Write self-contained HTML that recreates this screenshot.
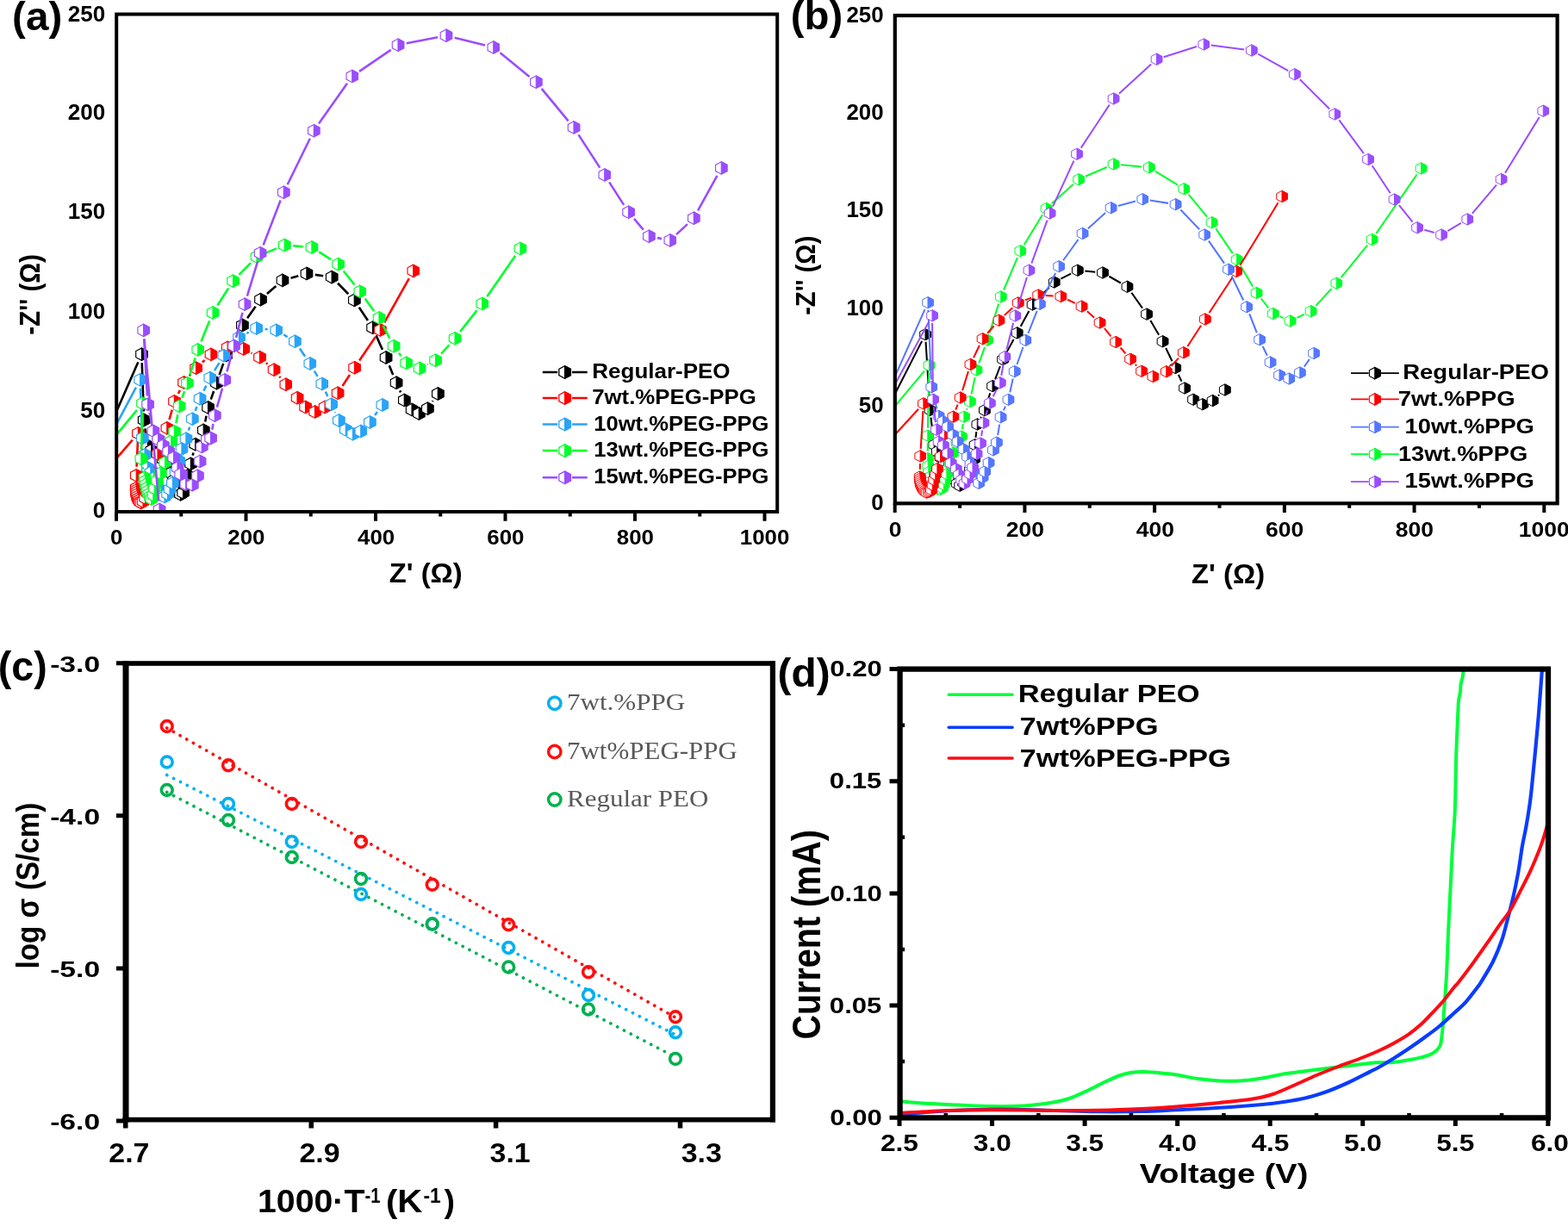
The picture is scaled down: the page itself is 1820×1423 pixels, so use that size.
<!DOCTYPE html>
<html><head><meta charset="utf-8"><title>figure</title><style>html,body{margin:0;padding:0;background:#fff;overflow:hidden}svg{display:block}</style></head><body><svg width="1820" height="1423" viewBox="0 0 1820 1423"><rect width="1820" height="1423" fill="#fff"/>
<clipPath id="ca"><rect x="135.2" y="16.5" width="767.0" height="577.5"/></clipPath>
<g clip-path="url(#ca)">
<path d="M120,512L160.37,420.25" fill="none" stroke="#000000" stroke-width="2.6"/><path d="M164.75,421.09L166.75,477.51M168.49,497.4L169.91,507.6M223.68,528.58L224.42,525.44M238.18,489.5L239.52,482.8M244.79,463.56L248.11,454.04M254.66,435.15L259.24,421.85M267.24,403.6L276.56,386.3M287.07,369.33L296.63,355.77M309.94,341.03L320.36,331.97M337.52,322.68L346.28,320.22M365.8,318.89L375.2,320.21M392.08,328.76L404.27,341.24M416.8,356.72L426.95,371.93M436.57,389.38L443.93,405.87M451.8,424.25L456.2,435M464.15,453.35L465.1,455.4M501.96,466.04L502.54,465.21" fill="none" stroke="#000000" stroke-width="2.6" stroke-linecap="butt"/><path d="M164.4,403.95L171.1,407.53L171.1,414.68L164.4,418.25L157.7,414.68L157.7,407.53Z" fill="#fff" stroke="#000000" stroke-width="1.15" stroke-linejoin="miter"/><path d="M164.4,403.95L171.1,407.53L171.1,414.68L164.4,418.25Z" fill="#000000" stroke="#000000" stroke-width="1.15"/><path d="M167.1,480.35L173.8,483.93L173.8,491.07L167.1,494.65L160.4,491.07L160.4,483.93Z" fill="#fff" stroke="#000000" stroke-width="1.15" stroke-linejoin="miter"/><path d="M167.1,480.35L173.8,483.93L173.8,491.07L167.1,494.65Z" fill="#000000" stroke="#000000" stroke-width="1.15"/><path d="M171.3,510.35L178,513.92L178,521.08L171.3,524.65L164.6,521.08L164.6,513.92Z" fill="#fff" stroke="#000000" stroke-width="1.15" stroke-linejoin="miter"/><path d="M171.3,510.35L178,513.92L178,521.08L171.3,524.65Z" fill="#000000" stroke="#000000" stroke-width="1.15"/><path d="M175.7,515.55L182.4,519.12L182.4,526.28L175.7,529.85L169,526.28L169,519.12Z" fill="#fff" stroke="#000000" stroke-width="1.15" stroke-linejoin="miter"/><path d="M175.7,515.55L182.4,519.12L182.4,526.28L175.7,529.85Z" fill="#000000" stroke="#000000" stroke-width="1.15"/><path d="M182.7,519.15L189.4,522.72L189.4,529.88L182.7,533.45L176,529.88L176,522.72Z" fill="#fff" stroke="#000000" stroke-width="1.15" stroke-linejoin="miter"/><path d="M182.7,519.15L189.4,522.72L189.4,529.88L182.7,533.45Z" fill="#000000" stroke="#000000" stroke-width="1.15"/><path d="M189,525.85L195.7,529.42L195.7,536.58L189,540.15L182.3,536.58L182.3,529.42Z" fill="#fff" stroke="#000000" stroke-width="1.15" stroke-linejoin="miter"/><path d="M189,525.85L195.7,529.42L195.7,536.58L189,540.15Z" fill="#000000" stroke="#000000" stroke-width="1.15"/><path d="M194,533.44L200.7,537.02L200.7,544.17L194,547.74L187.3,544.17L187.3,537.02Z" fill="#fff" stroke="#000000" stroke-width="1.15" stroke-linejoin="miter"/><path d="M194,533.44L200.7,537.02L200.7,544.17L194,547.74Z" fill="#000000" stroke="#000000" stroke-width="1.15"/><path d="M198,541.98L204.7,545.56L204.7,552.71L198,556.28L191.3,552.71L191.3,545.56Z" fill="#fff" stroke="#000000" stroke-width="1.15" stroke-linejoin="miter"/><path d="M198,541.98L204.7,545.56L204.7,552.71L198,556.28Z" fill="#000000" stroke="#000000" stroke-width="1.15"/><path d="M201.5,550.52L208.2,554.09L208.2,561.24L201.5,564.82L194.8,561.24L194.8,554.09Z" fill="#fff" stroke="#000000" stroke-width="1.15" stroke-linejoin="miter"/><path d="M201.5,550.52L208.2,554.09L208.2,561.24L201.5,564.82Z" fill="#000000" stroke="#000000" stroke-width="1.15"/><path d="M204.5,558.11L211.2,561.69L211.2,568.84L204.5,572.41L197.8,568.84L197.8,561.69Z" fill="#fff" stroke="#000000" stroke-width="1.15" stroke-linejoin="miter"/><path d="M204.5,558.11L211.2,561.69L211.2,568.84L204.5,572.41Z" fill="#000000" stroke="#000000" stroke-width="1.15"/><path d="M207,563.8L213.7,567.38L213.7,574.53L207,578.1L200.3,574.53L200.3,567.38Z" fill="#fff" stroke="#000000" stroke-width="1.15" stroke-linejoin="miter"/><path d="M207,563.8L213.7,567.38L213.7,574.53L207,578.1Z" fill="#000000" stroke="#000000" stroke-width="1.15"/><path d="M209.5,566.65L216.2,570.22L216.2,577.38L209.5,580.95L202.8,577.38L202.8,570.22Z" fill="#fff" stroke="#000000" stroke-width="1.15" stroke-linejoin="miter"/><path d="M209.5,566.65L216.2,570.22L216.2,577.38L209.5,580.95Z" fill="#000000" stroke="#000000" stroke-width="1.15"/><path d="M212.5,564.75L219.2,568.33L219.2,575.48L212.5,579.05L205.8,575.48L205.8,568.33Z" fill="#fff" stroke="#000000" stroke-width="1.15" stroke-linejoin="miter"/><path d="M212.5,564.75L219.2,568.33L219.2,575.48L212.5,579.05Z" fill="#000000" stroke="#000000" stroke-width="1.15"/><path d="M215.5,556.21L222.2,559.79L222.2,566.94L215.5,570.51L208.8,566.94L208.8,559.79Z" fill="#fff" stroke="#000000" stroke-width="1.15" stroke-linejoin="miter"/><path d="M215.5,556.21L222.2,559.79L222.2,566.94L215.5,570.51Z" fill="#000000" stroke="#000000" stroke-width="1.15"/><path d="M218,544.83L224.7,548.4L224.7,555.55L218,559.13L211.3,555.55L211.3,548.4Z" fill="#fff" stroke="#000000" stroke-width="1.15" stroke-linejoin="miter"/><path d="M218,544.83L224.7,548.4L224.7,555.55L218,559.13Z" fill="#000000" stroke="#000000" stroke-width="1.15"/><path d="M221.4,531.16L228.1,534.74L228.1,541.89L221.4,545.46L214.7,541.89L214.7,534.74Z" fill="#fff" stroke="#000000" stroke-width="1.15" stroke-linejoin="miter"/><path d="M221.4,531.16L228.1,534.74L228.1,541.89L221.4,545.46Z" fill="#000000" stroke="#000000" stroke-width="1.15"/><path d="M226.7,508.55L233.4,512.12L233.4,519.28L226.7,522.85L220,519.28L220,512.12Z" fill="#fff" stroke="#000000" stroke-width="1.15" stroke-linejoin="miter"/><path d="M226.7,508.55L233.4,512.12L233.4,519.28L226.7,522.85Z" fill="#000000" stroke="#000000" stroke-width="1.15"/><path d="M236.2,492.15L242.9,495.73L242.9,502.88L236.2,506.45L229.5,502.88L229.5,495.73Z" fill="#fff" stroke="#000000" stroke-width="1.15" stroke-linejoin="miter"/><path d="M236.2,492.15L242.9,495.73L242.9,502.88L236.2,506.45Z" fill="#000000" stroke="#000000" stroke-width="1.15"/><path d="M241.5,465.85L248.2,469.43L248.2,476.57L241.5,480.15L234.8,476.57L234.8,469.43Z" fill="#fff" stroke="#000000" stroke-width="1.15" stroke-linejoin="miter"/><path d="M241.5,465.85L248.2,469.43L248.2,476.57L241.5,480.15Z" fill="#000000" stroke="#000000" stroke-width="1.15"/><path d="M251.4,437.45L258.1,441.03L258.1,448.18L251.4,451.75L244.7,448.18L244.7,441.03Z" fill="#fff" stroke="#000000" stroke-width="1.15" stroke-linejoin="miter"/><path d="M251.4,437.45L258.1,441.03L258.1,448.18L251.4,451.75Z" fill="#000000" stroke="#000000" stroke-width="1.15"/><path d="M262.5,405.25L269.2,408.82L269.2,415.97L262.5,419.55L255.8,415.97L255.8,408.82Z" fill="#fff" stroke="#000000" stroke-width="1.15" stroke-linejoin="miter"/><path d="M262.5,405.25L269.2,408.82L269.2,415.97L262.5,419.55Z" fill="#000000" stroke="#000000" stroke-width="1.15"/><path d="M281.3,370.35L288,373.93L288,381.07L281.3,384.65L274.6,381.07L274.6,373.93Z" fill="#fff" stroke="#000000" stroke-width="1.15" stroke-linejoin="miter"/><path d="M281.3,370.35L288,373.93L288,381.07L281.3,384.65Z" fill="#000000" stroke="#000000" stroke-width="1.15"/><path d="M302.4,340.45L309.1,344.03L309.1,351.18L302.4,354.75L295.7,351.18L295.7,344.03Z" fill="#fff" stroke="#000000" stroke-width="1.15" stroke-linejoin="miter"/><path d="M302.4,340.45L309.1,344.03L309.1,351.18L302.4,354.75Z" fill="#000000" stroke="#000000" stroke-width="1.15"/><path d="M327.9,318.25L334.6,321.82L334.6,328.97L327.9,332.55L321.2,328.97L321.2,321.82Z" fill="#fff" stroke="#000000" stroke-width="1.15" stroke-linejoin="miter"/><path d="M327.9,318.25L334.6,321.82L334.6,328.97L327.9,332.55Z" fill="#000000" stroke="#000000" stroke-width="1.15"/><path d="M355.9,310.35L362.6,313.93L362.6,321.07L355.9,324.65L349.2,321.07L349.2,313.93Z" fill="#fff" stroke="#000000" stroke-width="1.15" stroke-linejoin="miter"/><path d="M355.9,310.35L362.6,313.93L362.6,321.07L355.9,324.65Z" fill="#000000" stroke="#000000" stroke-width="1.15"/><path d="M385.1,314.45L391.8,318.03L391.8,325.18L385.1,328.75L378.4,325.18L378.4,318.03Z" fill="#fff" stroke="#000000" stroke-width="1.15" stroke-linejoin="miter"/><path d="M385.1,314.45L391.8,318.03L391.8,325.18L385.1,328.75Z" fill="#000000" stroke="#000000" stroke-width="1.15"/><path d="M411.25,341.25L417.95,344.82L417.95,351.97L411.25,355.55L404.55,351.97L404.55,344.82Z" fill="#fff" stroke="#000000" stroke-width="1.15" stroke-linejoin="miter"/><path d="M411.25,341.25L417.95,344.82L417.95,351.97L411.25,355.55Z" fill="#000000" stroke="#000000" stroke-width="1.15"/><path d="M432.5,373.1L439.2,376.68L439.2,383.82L432.5,387.4L425.8,383.82L425.8,376.68Z" fill="#fff" stroke="#000000" stroke-width="1.15" stroke-linejoin="miter"/><path d="M432.5,373.1L439.2,376.68L439.2,383.82L432.5,387.4Z" fill="#000000" stroke="#000000" stroke-width="1.15"/><path d="M448,407.85L454.7,411.43L454.7,418.57L448,422.15L441.3,418.57L441.3,411.43Z" fill="#fff" stroke="#000000" stroke-width="1.15" stroke-linejoin="miter"/><path d="M448,407.85L454.7,411.43L454.7,418.57L448,422.15Z" fill="#000000" stroke="#000000" stroke-width="1.15"/><path d="M460,437.1L466.7,440.68L466.7,447.82L460,451.4L453.3,447.82L453.3,440.68Z" fill="#fff" stroke="#000000" stroke-width="1.15" stroke-linejoin="miter"/><path d="M460,437.1L466.7,440.68L466.7,447.82L460,451.4Z" fill="#000000" stroke="#000000" stroke-width="1.15"/><path d="M469.25,457.35L475.95,460.93L475.95,468.07L469.25,471.65L462.55,468.07L462.55,460.93Z" fill="#fff" stroke="#000000" stroke-width="1.15" stroke-linejoin="miter"/><path d="M469.25,457.35L475.95,460.93L475.95,468.07L469.25,471.65Z" fill="#000000" stroke="#000000" stroke-width="1.15"/><path d="M478,468.35L484.7,471.93L484.7,479.07L478,482.65L471.3,479.07L471.3,471.93Z" fill="#fff" stroke="#000000" stroke-width="1.15" stroke-linejoin="miter"/><path d="M478,468.35L484.7,471.93L484.7,479.07L478,482.65Z" fill="#000000" stroke="#000000" stroke-width="1.15"/><path d="M486.25,472.85L492.95,476.43L492.95,483.57L486.25,487.15L479.55,483.57L479.55,476.43Z" fill="#fff" stroke="#000000" stroke-width="1.15" stroke-linejoin="miter"/><path d="M486.25,472.85L492.95,476.43L492.95,483.57L486.25,487.15Z" fill="#000000" stroke="#000000" stroke-width="1.15"/><path d="M496.25,467.1L502.95,470.68L502.95,477.82L496.25,481.4L489.55,477.82L489.55,470.68Z" fill="#fff" stroke="#000000" stroke-width="1.15" stroke-linejoin="miter"/><path d="M496.25,467.1L502.95,470.68L502.95,477.82L496.25,481.4Z" fill="#000000" stroke="#000000" stroke-width="1.15"/><path d="M508.25,449.85L514.95,453.43L514.95,460.57L508.25,464.15L501.55,460.57L501.55,453.43Z" fill="#fff" stroke="#000000" stroke-width="1.15" stroke-linejoin="miter"/><path d="M508.25,449.85L514.95,453.43L514.95,460.57L508.25,464.15Z" fill="#000000" stroke="#000000" stroke-width="1.15"/>
<path d="M120,549.5L153.75,510.56" fill="none" stroke="#ff0000" stroke-width="2.6"/><path d="M159.87,512.99L158.63,541.81M180.03,538.33L180.47,536.67M186.37,517.58L190.43,506.22M196.48,487.17L199.72,475.53M206.89,456.96L208.91,452.94M219.83,436.34L221.07,434.86M234.88,420.45L237.52,418.05M254.13,407.45L254.87,407.15M291.51,409.55L292.49,410.05M308.91,421.2L310.49,422.6M324.28,436.98L325.47,438.47M383.78,465.15L385.22,463.6M397.51,447.91L405.99,435.09M417.12,418.48L435.63,391.27M446.14,374.28L474.81,323.12" fill="none" stroke="#ff0000" stroke-width="2.6" stroke-linecap="butt"/><path d="M160.3,495.85L167,499.43L167,506.57L160.3,510.15L153.6,506.57L153.6,499.43Z" fill="#fff" stroke="#ff0000" stroke-width="1.15" stroke-linejoin="miter"/><path d="M160.3,495.85L167,499.43L167,506.57L160.3,510.15Z" fill="#ff0000" stroke="#ff0000" stroke-width="1.15"/><path d="M158.2,544.65L164.9,548.22L164.9,555.38L158.2,558.95L151.5,555.38L151.5,548.22Z" fill="#fff" stroke="#ff0000" stroke-width="1.15" stroke-linejoin="miter"/><path d="M158.2,544.65L164.9,548.22L164.9,555.38L158.2,558.95Z" fill="#ff0000" stroke="#ff0000" stroke-width="1.15"/><path d="M158.1,559.35L164.8,562.92L164.8,570.08L158.1,573.65L151.4,570.08L151.4,562.92Z" fill="#fff" stroke="#ff0000" stroke-width="1.15" stroke-linejoin="miter"/><path d="M158.1,559.35L164.8,562.92L164.8,570.08L158.1,573.65Z" fill="#ff0000" stroke="#ff0000" stroke-width="1.15"/><path d="M158.2,561.85L164.9,565.42L164.9,572.58L158.2,576.15L151.5,572.58L151.5,565.42Z" fill="#fff" stroke="#ff0000" stroke-width="1.15" stroke-linejoin="miter"/><path d="M158.2,561.85L164.9,565.42L164.9,572.58L158.2,576.15Z" fill="#ff0000" stroke="#ff0000" stroke-width="1.15"/><path d="M158.4,564.35L165.1,567.92L165.1,575.08L158.4,578.65L151.7,575.08L151.7,567.92Z" fill="#fff" stroke="#ff0000" stroke-width="1.15" stroke-linejoin="miter"/><path d="M158.4,564.35L165.1,567.92L165.1,575.08L158.4,578.65Z" fill="#ff0000" stroke="#ff0000" stroke-width="1.15"/><path d="M158.8,566.85L165.5,570.42L165.5,577.58L158.8,581.15L152.1,577.58L152.1,570.42Z" fill="#fff" stroke="#ff0000" stroke-width="1.15" stroke-linejoin="miter"/><path d="M158.8,566.85L165.5,570.42L165.5,577.58L158.8,581.15Z" fill="#ff0000" stroke="#ff0000" stroke-width="1.15"/><path d="M159.4,569.35L166.1,572.92L166.1,580.08L159.4,583.65L152.7,580.08L152.7,572.92Z" fill="#fff" stroke="#ff0000" stroke-width="1.15" stroke-linejoin="miter"/><path d="M159.4,569.35L166.1,572.92L166.1,580.08L159.4,583.65Z" fill="#ff0000" stroke="#ff0000" stroke-width="1.15"/><path d="M160.2,571.65L166.9,575.22L166.9,582.38L160.2,585.95L153.5,582.38L153.5,575.22Z" fill="#fff" stroke="#ff0000" stroke-width="1.15" stroke-linejoin="miter"/><path d="M160.2,571.65L166.9,575.22L166.9,582.38L160.2,585.95Z" fill="#ff0000" stroke="#ff0000" stroke-width="1.15"/><path d="M161.2,573.65L167.9,577.22L167.9,584.38L161.2,587.95L154.5,584.38L154.5,577.22Z" fill="#fff" stroke="#ff0000" stroke-width="1.15" stroke-linejoin="miter"/><path d="M161.2,573.65L167.9,577.22L167.9,584.38L161.2,587.95Z" fill="#ff0000" stroke="#ff0000" stroke-width="1.15"/><path d="M162.4,575.35L169.1,578.92L169.1,586.08L162.4,589.65L155.7,586.08L155.7,578.92Z" fill="#fff" stroke="#ff0000" stroke-width="1.15" stroke-linejoin="miter"/><path d="M162.4,575.35L169.1,578.92L169.1,586.08L162.4,589.65Z" fill="#ff0000" stroke="#ff0000" stroke-width="1.15"/><path d="M163.8,576.25L170.5,579.82L170.5,586.98L163.8,590.55L157.1,586.98L157.1,579.82Z" fill="#fff" stroke="#ff0000" stroke-width="1.15" stroke-linejoin="miter"/><path d="M163.8,576.25L170.5,579.82L170.5,586.98L163.8,590.55Z" fill="#ff0000" stroke="#ff0000" stroke-width="1.15"/><path d="M166,574.85L172.7,578.42L172.7,585.58L166,589.15L159.3,585.58L159.3,578.42Z" fill="#fff" stroke="#ff0000" stroke-width="1.15" stroke-linejoin="miter"/><path d="M166,574.85L172.7,578.42L172.7,585.58L166,589.15Z" fill="#ff0000" stroke="#ff0000" stroke-width="1.15"/><path d="M168.5,570.85L175.2,574.42L175.2,581.58L168.5,585.15L161.8,581.58L161.8,574.42Z" fill="#fff" stroke="#ff0000" stroke-width="1.15" stroke-linejoin="miter"/><path d="M168.5,570.85L175.2,574.42L175.2,581.58L168.5,585.15Z" fill="#ff0000" stroke="#ff0000" stroke-width="1.15"/><path d="M171,564.85L177.7,568.42L177.7,575.58L171,579.15L164.3,575.58L164.3,568.42Z" fill="#fff" stroke="#ff0000" stroke-width="1.15" stroke-linejoin="miter"/><path d="M171,564.85L177.7,568.42L177.7,575.58L171,579.15Z" fill="#ff0000" stroke="#ff0000" stroke-width="1.15"/><path d="M174,554.85L180.7,558.42L180.7,565.58L174,569.15L167.3,565.58L167.3,558.42Z" fill="#fff" stroke="#ff0000" stroke-width="1.15" stroke-linejoin="miter"/><path d="M174,554.85L180.7,558.42L180.7,565.58L174,569.15Z" fill="#ff0000" stroke="#ff0000" stroke-width="1.15"/><path d="M177.5,540.85L184.2,544.42L184.2,551.58L177.5,555.15L170.8,551.58L170.8,544.42Z" fill="#fff" stroke="#ff0000" stroke-width="1.15" stroke-linejoin="miter"/><path d="M177.5,540.85L184.2,544.42L184.2,551.58L177.5,555.15Z" fill="#ff0000" stroke="#ff0000" stroke-width="1.15"/><path d="M183,519.85L189.7,523.42L189.7,530.58L183,534.15L176.3,530.58L176.3,523.42Z" fill="#fff" stroke="#ff0000" stroke-width="1.15" stroke-linejoin="miter"/><path d="M183,519.85L189.7,523.42L189.7,530.58L183,534.15Z" fill="#ff0000" stroke="#ff0000" stroke-width="1.15"/><path d="M193.8,489.65L200.5,493.23L200.5,500.38L193.8,503.95L187.1,500.38L187.1,493.23Z" fill="#fff" stroke="#ff0000" stroke-width="1.15" stroke-linejoin="miter"/><path d="M193.8,489.65L200.5,493.23L200.5,500.38L193.8,503.95Z" fill="#ff0000" stroke="#ff0000" stroke-width="1.15"/><path d="M202.4,458.75L209.1,462.32L209.1,469.47L202.4,473.05L195.7,469.47L195.7,462.32Z" fill="#fff" stroke="#ff0000" stroke-width="1.15" stroke-linejoin="miter"/><path d="M202.4,458.75L209.1,462.32L209.1,469.47L202.4,473.05Z" fill="#ff0000" stroke="#ff0000" stroke-width="1.15"/><path d="M213.4,436.85L220.1,440.43L220.1,447.57L213.4,451.15L206.7,447.57L206.7,440.43Z" fill="#fff" stroke="#ff0000" stroke-width="1.15" stroke-linejoin="miter"/><path d="M213.4,436.85L220.1,440.43L220.1,447.57L213.4,451.15Z" fill="#ff0000" stroke="#ff0000" stroke-width="1.15"/><path d="M227.5,420.05L234.2,423.62L234.2,430.77L227.5,434.35L220.8,430.77L220.8,423.62Z" fill="#fff" stroke="#ff0000" stroke-width="1.15" stroke-linejoin="miter"/><path d="M227.5,420.05L234.2,423.62L234.2,430.77L227.5,434.35Z" fill="#ff0000" stroke="#ff0000" stroke-width="1.15"/><path d="M244.9,404.15L251.6,407.73L251.6,414.88L244.9,418.45L238.2,414.88L238.2,407.73Z" fill="#fff" stroke="#ff0000" stroke-width="1.15" stroke-linejoin="miter"/><path d="M244.9,404.15L251.6,407.73L251.6,414.88L244.9,418.45Z" fill="#ff0000" stroke="#ff0000" stroke-width="1.15"/><path d="M264.1,396.15L270.8,399.73L270.8,406.88L264.1,410.45L257.4,406.88L257.4,399.73Z" fill="#fff" stroke="#ff0000" stroke-width="1.15" stroke-linejoin="miter"/><path d="M264.1,396.15L270.8,399.73L270.8,406.88L264.1,410.45Z" fill="#ff0000" stroke="#ff0000" stroke-width="1.15"/><path d="M282.6,397.85L289.3,401.43L289.3,408.57L282.6,412.15L275.9,408.57L275.9,401.43Z" fill="#fff" stroke="#ff0000" stroke-width="1.15" stroke-linejoin="miter"/><path d="M282.6,397.85L289.3,401.43L289.3,408.57L282.6,412.15Z" fill="#ff0000" stroke="#ff0000" stroke-width="1.15"/><path d="M301.4,407.45L308.1,411.03L308.1,418.18L301.4,421.75L294.7,418.18L294.7,411.03Z" fill="#fff" stroke="#ff0000" stroke-width="1.15" stroke-linejoin="miter"/><path d="M301.4,407.45L308.1,411.03L308.1,418.18L301.4,421.75Z" fill="#ff0000" stroke="#ff0000" stroke-width="1.15"/><path d="M318,422.05L324.7,425.62L324.7,432.77L318,436.35L311.3,432.77L311.3,425.62Z" fill="#fff" stroke="#ff0000" stroke-width="1.15" stroke-linejoin="miter"/><path d="M318,422.05L324.7,425.62L324.7,432.77L318,436.35Z" fill="#ff0000" stroke="#ff0000" stroke-width="1.15"/><path d="M331.75,439.1L338.45,442.68L338.45,449.82L331.75,453.4L325.05,449.82L325.05,442.68Z" fill="#fff" stroke="#ff0000" stroke-width="1.15" stroke-linejoin="miter"/><path d="M331.75,439.1L338.45,442.68L338.45,449.82L331.75,453.4Z" fill="#ff0000" stroke="#ff0000" stroke-width="1.15"/><path d="M345,454.6L351.7,458.18L351.7,465.32L345,468.9L338.3,465.32L338.3,458.18Z" fill="#fff" stroke="#ff0000" stroke-width="1.15" stroke-linejoin="miter"/><path d="M345,454.6L351.7,458.18L351.7,465.32L345,468.9Z" fill="#ff0000" stroke="#ff0000" stroke-width="1.15"/><path d="M354.5,465.35L361.2,468.93L361.2,476.07L354.5,479.65L347.8,476.07L347.8,468.93Z" fill="#fff" stroke="#ff0000" stroke-width="1.15" stroke-linejoin="miter"/><path d="M354.5,465.35L361.2,468.93L361.2,476.07L354.5,479.65Z" fill="#ff0000" stroke="#ff0000" stroke-width="1.15"/><path d="M365.5,470.85L372.2,474.43L372.2,481.57L365.5,485.15L358.8,481.57L358.8,474.43Z" fill="#fff" stroke="#ff0000" stroke-width="1.15" stroke-linejoin="miter"/><path d="M365.5,470.85L372.2,474.43L372.2,481.57L365.5,485.15Z" fill="#ff0000" stroke="#ff0000" stroke-width="1.15"/><path d="M377,465.35L383.7,468.93L383.7,476.07L377,479.65L370.3,476.07L370.3,468.93Z" fill="#fff" stroke="#ff0000" stroke-width="1.15" stroke-linejoin="miter"/><path d="M377,465.35L383.7,468.93L383.7,476.07L377,479.65Z" fill="#ff0000" stroke="#ff0000" stroke-width="1.15"/><path d="M392,449.1L398.7,452.68L398.7,459.82L392,463.4L385.3,459.82L385.3,452.68Z" fill="#fff" stroke="#ff0000" stroke-width="1.15" stroke-linejoin="miter"/><path d="M392,449.1L398.7,452.68L398.7,459.82L392,463.4Z" fill="#ff0000" stroke="#ff0000" stroke-width="1.15"/><path d="M411.5,419.6L418.2,423.18L418.2,430.32L411.5,433.9L404.8,430.32L404.8,423.18Z" fill="#fff" stroke="#ff0000" stroke-width="1.15" stroke-linejoin="miter"/><path d="M411.5,419.6L418.2,423.18L418.2,430.32L411.5,433.9Z" fill="#ff0000" stroke="#ff0000" stroke-width="1.15"/><path d="M441.25,375.85L447.95,379.43L447.95,386.57L441.25,390.15L434.55,386.57L434.55,379.43Z" fill="#fff" stroke="#ff0000" stroke-width="1.15" stroke-linejoin="miter"/><path d="M441.25,375.85L447.95,379.43L447.95,386.57L441.25,390.15Z" fill="#ff0000" stroke="#ff0000" stroke-width="1.15"/><path d="M479.7,307.25L486.4,310.82L486.4,317.97L479.7,321.55L473,317.97L473,310.82Z" fill="#fff" stroke="#ff0000" stroke-width="1.15" stroke-linejoin="miter"/><path d="M479.7,307.25L486.4,310.82L486.4,317.97L479.7,321.55Z" fill="#ff0000" stroke="#ff0000" stroke-width="1.15"/>
<path d="M120,521L157.91,449.63" fill="none" stroke="#2aa4f7" stroke-width="2.6"/><path d="M162.98,450.79L164.82,498.51M218.93,499.67L220.17,495.73M226.71,476.84L228.49,472.06M236.37,453.7L239.33,447.6M248.94,430.08L254.46,421.12M266.14,404.95L270.96,399.25M286.25,386.95L288.75,385.65M307.55,381.99L310.75,382.31M329.27,388.45L333.68,391.1M347.87,404.52L354.13,413.73M364.87,430.59L368.63,436.91M377.87,454.61L380.38,460.14M388.73,478.31L389.02,478.94M435.12,481.9L437.88,478.1" fill="none" stroke="#2aa4f7" stroke-width="2.6" stroke-linecap="butt"/><path d="M162.6,433.65L169.3,437.23L169.3,444.38L162.6,447.95L155.9,444.38L155.9,437.23Z" fill="#fff" stroke="#2aa4f7" stroke-width="1.15" stroke-linejoin="miter"/><path d="M162.6,433.65L169.3,437.23L169.3,444.38L162.6,447.95Z" fill="#2aa4f7" stroke="#2aa4f7" stroke-width="1.15"/><path d="M165.2,501.35L171.9,504.93L171.9,512.08L165.2,515.65L158.5,512.08L158.5,504.93Z" fill="#fff" stroke="#2aa4f7" stroke-width="1.15" stroke-linejoin="miter"/><path d="M165.2,501.35L171.9,504.93L171.9,512.08L165.2,515.65Z" fill="#2aa4f7" stroke="#2aa4f7" stroke-width="1.15"/><path d="M168,520.85L174.7,524.42L174.7,531.58L168,535.15L161.3,531.58L161.3,524.42Z" fill="#fff" stroke="#2aa4f7" stroke-width="1.15" stroke-linejoin="miter"/><path d="M168,520.85L174.7,524.42L174.7,531.58L168,535.15Z" fill="#2aa4f7" stroke="#2aa4f7" stroke-width="1.15"/><path d="M171.3,535.85L178,539.42L178,546.58L171.3,550.15L164.6,546.58L164.6,539.42Z" fill="#fff" stroke="#2aa4f7" stroke-width="1.15" stroke-linejoin="miter"/><path d="M171.3,535.85L178,539.42L178,546.58L171.3,550.15Z" fill="#2aa4f7" stroke="#2aa4f7" stroke-width="1.15"/><path d="M174.8,541.36L181.5,544.93L181.5,552.08L174.8,555.66L168.1,552.08L168.1,544.93Z" fill="#fff" stroke="#2aa4f7" stroke-width="1.15" stroke-linejoin="miter"/><path d="M174.8,541.36L181.5,544.93L181.5,552.08L174.8,555.66Z" fill="#2aa4f7" stroke="#2aa4f7" stroke-width="1.15"/><path d="M178.4,547.78L185.1,551.36L185.1,558.51L178.4,562.08L171.7,558.51L171.7,551.36Z" fill="#fff" stroke="#2aa4f7" stroke-width="1.15" stroke-linejoin="miter"/><path d="M178.4,547.78L185.1,551.36L185.1,558.51L178.4,562.08Z" fill="#2aa4f7" stroke="#2aa4f7" stroke-width="1.15"/><path d="M181.5,554.21L188.2,557.78L188.2,564.93L181.5,568.51L174.8,564.93L174.8,557.78Z" fill="#fff" stroke="#2aa4f7" stroke-width="1.15" stroke-linejoin="miter"/><path d="M181.5,554.21L188.2,557.78L188.2,564.93L181.5,568.51Z" fill="#2aa4f7" stroke="#2aa4f7" stroke-width="1.15"/><path d="M184.5,560.17L191.2,563.75L191.2,570.9L184.5,574.47L177.8,570.9L177.8,563.75Z" fill="#fff" stroke="#2aa4f7" stroke-width="1.15" stroke-linejoin="miter"/><path d="M184.5,560.17L191.2,563.75L191.2,570.9L184.5,574.47Z" fill="#2aa4f7" stroke="#2aa4f7" stroke-width="1.15"/><path d="M187.5,565.22L194.2,568.79L194.2,575.94L187.5,579.52L180.8,575.94L180.8,568.79Z" fill="#fff" stroke="#2aa4f7" stroke-width="1.15" stroke-linejoin="miter"/><path d="M187.5,565.22L194.2,568.79L194.2,575.94L187.5,579.52Z" fill="#2aa4f7" stroke="#2aa4f7" stroke-width="1.15"/><path d="M191,569.35L197.7,572.92L197.7,580.08L191,583.65L184.3,580.08L184.3,572.92Z" fill="#fff" stroke="#2aa4f7" stroke-width="1.15" stroke-linejoin="miter"/><path d="M191,569.35L197.7,572.92L197.7,580.08L191,583.65Z" fill="#2aa4f7" stroke="#2aa4f7" stroke-width="1.15"/><path d="M194.5,566.14L201.2,569.71L201.2,576.86L194.5,580.44L187.8,576.86L187.8,569.71Z" fill="#fff" stroke="#2aa4f7" stroke-width="1.15" stroke-linejoin="miter"/><path d="M194.5,566.14L201.2,569.71L201.2,576.86L194.5,580.44Z" fill="#2aa4f7" stroke="#2aa4f7" stroke-width="1.15"/><path d="M197,560.63L203.7,564.21L203.7,571.36L197,574.93L190.3,571.36L190.3,564.21Z" fill="#fff" stroke="#2aa4f7" stroke-width="1.15" stroke-linejoin="miter"/><path d="M197,560.63L203.7,564.21L203.7,571.36L197,574.93Z" fill="#2aa4f7" stroke="#2aa4f7" stroke-width="1.15"/><path d="M200.3,553.56L207,557.14L207,564.29L200.3,567.86L193.6,564.29L193.6,557.14Z" fill="#fff" stroke="#2aa4f7" stroke-width="1.15" stroke-linejoin="miter"/><path d="M200.3,553.56L207,557.14L207,564.29L200.3,567.86Z" fill="#2aa4f7" stroke="#2aa4f7" stroke-width="1.15"/><path d="M204,540.44L210.7,544.01L210.7,551.16L204,554.74L197.3,551.16L197.3,544.01Z" fill="#fff" stroke="#2aa4f7" stroke-width="1.15" stroke-linejoin="miter"/><path d="M204,540.44L210.7,544.01L210.7,551.16L204,554.74Z" fill="#2aa4f7" stroke="#2aa4f7" stroke-width="1.15"/><path d="M207.5,527.85L214.2,531.42L214.2,538.58L207.5,542.15L200.8,538.58L200.8,531.42Z" fill="#fff" stroke="#2aa4f7" stroke-width="1.15" stroke-linejoin="miter"/><path d="M207.5,527.85L214.2,531.42L214.2,538.58L207.5,542.15Z" fill="#2aa4f7" stroke="#2aa4f7" stroke-width="1.15"/><path d="M210.9,513.85L217.6,517.42L217.6,524.58L210.9,528.15L204.2,524.58L204.2,517.42Z" fill="#fff" stroke="#2aa4f7" stroke-width="1.15" stroke-linejoin="miter"/><path d="M210.9,513.85L217.6,517.42L217.6,524.58L210.9,528.15Z" fill="#2aa4f7" stroke="#2aa4f7" stroke-width="1.15"/><path d="M215.9,502.05L222.6,505.62L222.6,512.77L215.9,516.35L209.2,512.77L209.2,505.62Z" fill="#fff" stroke="#2aa4f7" stroke-width="1.15" stroke-linejoin="miter"/><path d="M215.9,502.05L222.6,505.62L222.6,512.77L215.9,516.35Z" fill="#2aa4f7" stroke="#2aa4f7" stroke-width="1.15"/><path d="M223.2,479.05L229.9,482.62L229.9,489.77L223.2,493.35L216.5,489.77L216.5,482.62Z" fill="#fff" stroke="#2aa4f7" stroke-width="1.15" stroke-linejoin="miter"/><path d="M223.2,479.05L229.9,482.62L229.9,489.77L223.2,493.35Z" fill="#2aa4f7" stroke="#2aa4f7" stroke-width="1.15"/><path d="M232,455.55L238.7,459.12L238.7,466.27L232,469.85L225.3,466.27L225.3,459.12Z" fill="#fff" stroke="#2aa4f7" stroke-width="1.15" stroke-linejoin="miter"/><path d="M232,455.55L238.7,459.12L238.7,466.27L232,469.85Z" fill="#2aa4f7" stroke="#2aa4f7" stroke-width="1.15"/><path d="M243.7,431.45L250.4,435.03L250.4,442.18L243.7,445.75L237,442.18L237,435.03Z" fill="#fff" stroke="#2aa4f7" stroke-width="1.15" stroke-linejoin="miter"/><path d="M243.7,431.45L250.4,435.03L250.4,442.18L243.7,445.75Z" fill="#2aa4f7" stroke="#2aa4f7" stroke-width="1.15"/><path d="M259.7,405.45L266.4,409.03L266.4,416.18L259.7,419.75L253,416.18L253,409.03Z" fill="#fff" stroke="#2aa4f7" stroke-width="1.15" stroke-linejoin="miter"/><path d="M259.7,405.45L266.4,409.03L266.4,416.18L259.7,419.75Z" fill="#2aa4f7" stroke="#2aa4f7" stroke-width="1.15"/><path d="M277.4,384.45L284.1,388.03L284.1,395.18L277.4,398.75L270.7,395.18L270.7,388.03Z" fill="#fff" stroke="#2aa4f7" stroke-width="1.15" stroke-linejoin="miter"/><path d="M277.4,384.45L284.1,388.03L284.1,395.18L277.4,398.75Z" fill="#2aa4f7" stroke="#2aa4f7" stroke-width="1.15"/><path d="M297.6,373.85L304.3,377.43L304.3,384.57L297.6,388.15L290.9,384.57L290.9,377.43Z" fill="#fff" stroke="#2aa4f7" stroke-width="1.15" stroke-linejoin="miter"/><path d="M297.6,373.85L304.3,377.43L304.3,384.57L297.6,388.15Z" fill="#2aa4f7" stroke="#2aa4f7" stroke-width="1.15"/><path d="M320.7,376.15L327.4,379.73L327.4,386.88L320.7,390.45L314,386.88L314,379.73Z" fill="#fff" stroke="#2aa4f7" stroke-width="1.15" stroke-linejoin="miter"/><path d="M320.7,376.15L327.4,379.73L327.4,386.88L320.7,390.45Z" fill="#2aa4f7" stroke="#2aa4f7" stroke-width="1.15"/><path d="M342.25,389.1L348.95,392.68L348.95,399.82L342.25,403.4L335.55,399.82L335.55,392.68Z" fill="#fff" stroke="#2aa4f7" stroke-width="1.15" stroke-linejoin="miter"/><path d="M342.25,389.1L348.95,392.68L348.95,399.82L342.25,403.4Z" fill="#2aa4f7" stroke="#2aa4f7" stroke-width="1.15"/><path d="M359.75,414.85L366.45,418.43L366.45,425.57L359.75,429.15L353.05,425.57L353.05,418.43Z" fill="#fff" stroke="#2aa4f7" stroke-width="1.15" stroke-linejoin="miter"/><path d="M359.75,414.85L366.45,418.43L366.45,425.57L359.75,429.15Z" fill="#2aa4f7" stroke="#2aa4f7" stroke-width="1.15"/><path d="M373.75,438.35L380.45,441.93L380.45,449.07L373.75,452.65L367.05,449.07L367.05,441.93Z" fill="#fff" stroke="#2aa4f7" stroke-width="1.15" stroke-linejoin="miter"/><path d="M373.75,438.35L380.45,441.93L380.45,449.07L373.75,452.65Z" fill="#2aa4f7" stroke="#2aa4f7" stroke-width="1.15"/><path d="M384.5,462.1L391.2,465.68L391.2,472.82L384.5,476.4L377.8,472.82L377.8,465.68Z" fill="#fff" stroke="#2aa4f7" stroke-width="1.15" stroke-linejoin="miter"/><path d="M384.5,462.1L391.2,465.68L391.2,472.82L384.5,476.4Z" fill="#2aa4f7" stroke="#2aa4f7" stroke-width="1.15"/><path d="M393.25,480.85L399.95,484.43L399.95,491.57L393.25,495.15L386.55,491.57L386.55,484.43Z" fill="#fff" stroke="#2aa4f7" stroke-width="1.15" stroke-linejoin="miter"/><path d="M393.25,480.85L399.95,484.43L399.95,491.57L393.25,495.15Z" fill="#2aa4f7" stroke="#2aa4f7" stroke-width="1.15"/><path d="M401.25,491.6L407.95,495.18L407.95,502.32L401.25,505.9L394.55,502.32L394.55,495.18Z" fill="#fff" stroke="#2aa4f7" stroke-width="1.15" stroke-linejoin="miter"/><path d="M401.25,491.6L407.95,495.18L407.95,502.32L401.25,505.9Z" fill="#2aa4f7" stroke="#2aa4f7" stroke-width="1.15"/><path d="M409.5,496.6L416.2,500.18L416.2,507.32L409.5,510.9L402.8,507.32L402.8,500.18Z" fill="#fff" stroke="#2aa4f7" stroke-width="1.15" stroke-linejoin="miter"/><path d="M409.5,496.6L416.2,500.18L416.2,507.32L409.5,510.9Z" fill="#2aa4f7" stroke="#2aa4f7" stroke-width="1.15"/><path d="M418.75,493.35L425.45,496.93L425.45,504.07L418.75,507.65L412.05,504.07L412.05,496.93Z" fill="#fff" stroke="#2aa4f7" stroke-width="1.15" stroke-linejoin="miter"/><path d="M418.75,493.35L425.45,496.93L425.45,504.07L418.75,507.65Z" fill="#2aa4f7" stroke="#2aa4f7" stroke-width="1.15"/><path d="M429.25,482.85L435.95,486.43L435.95,493.57L429.25,497.15L422.55,493.57L422.55,486.43Z" fill="#fff" stroke="#2aa4f7" stroke-width="1.15" stroke-linejoin="miter"/><path d="M429.25,482.85L435.95,486.43L435.95,493.57L429.25,497.15Z" fill="#2aa4f7" stroke="#2aa4f7" stroke-width="1.15"/><path d="M443.75,462.85L450.45,466.43L450.45,473.57L443.75,477.15L437.05,473.57L437.05,466.43Z" fill="#fff" stroke="#2aa4f7" stroke-width="1.15" stroke-linejoin="miter"/><path d="M443.75,462.85L450.45,466.43L450.45,473.57L443.75,477.15Z" fill="#2aa4f7" stroke="#2aa4f7" stroke-width="1.15"/>
<path d="M120,523L159.02,475.9" fill="none" stroke="#00ff2a" stroke-width="2.6"/><path d="M165.15,478.2L164.05,522.4M165.63,542.23L166.07,544.57M204.36,491.08L206.24,481.22M211.36,461.95L214.04,454.15M220.34,435.17L226.66,415.33M233.45,396.53L243.25,372.27M252.37,354.57L265.13,334.53M277.49,318.95L291.01,305.15M307.22,294.13L320.98,288.37M340.17,285.29L351.93,286.21M370.32,292.39L384.08,301.21M398.71,314.44L411.49,330.56M423.59,346.48L434.11,360.92M444.61,377.88L452.39,392.87M462.97,409.77L465.53,413.23M495.94,423.03L496.56,422.72M512.12,410.75L521.38,400.25M534.18,384.88L553.42,360.37M565.29,344.28L598.21,296.72" fill="none" stroke="#00ff2a" stroke-width="2.6" stroke-linecap="butt"/><path d="M165.4,461.05L172.1,464.62L172.1,471.77L165.4,475.35L158.7,471.77L158.7,464.62Z" fill="#fff" stroke="#00ff2a" stroke-width="1.15" stroke-linejoin="miter"/><path d="M165.4,461.05L172.1,464.62L172.1,471.77L165.4,475.35Z" fill="#00ff2a" stroke="#00ff2a" stroke-width="1.15"/><path d="M163.8,525.25L170.5,528.82L170.5,535.98L163.8,539.55L157.1,535.98L157.1,528.82Z" fill="#fff" stroke="#00ff2a" stroke-width="1.15" stroke-linejoin="miter"/><path d="M163.8,525.25L170.5,528.82L170.5,535.98L163.8,539.55Z" fill="#00ff2a" stroke="#00ff2a" stroke-width="1.15"/><path d="M167.9,547.25L174.6,550.82L174.6,557.98L167.9,561.55L161.2,557.98L161.2,550.82Z" fill="#fff" stroke="#00ff2a" stroke-width="1.15" stroke-linejoin="miter"/><path d="M167.9,547.25L174.6,550.82L174.6,557.98L167.9,561.55Z" fill="#00ff2a" stroke="#00ff2a" stroke-width="1.15"/><path d="M168.5,551.35L175.2,554.92L175.2,562.08L168.5,565.65L161.8,562.08L161.8,554.92Z" fill="#fff" stroke="#00ff2a" stroke-width="1.15" stroke-linejoin="miter"/><path d="M168.5,551.35L175.2,554.92L175.2,562.08L168.5,565.65Z" fill="#00ff2a" stroke="#00ff2a" stroke-width="1.15"/><path d="M169.3,555.35L176,558.92L176,566.08L169.3,569.65L162.6,566.08L162.6,558.92Z" fill="#fff" stroke="#00ff2a" stroke-width="1.15" stroke-linejoin="miter"/><path d="M169.3,555.35L176,558.92L176,566.08L169.3,569.65Z" fill="#00ff2a" stroke="#00ff2a" stroke-width="1.15"/><path d="M170.3,559.35L177,562.92L177,570.08L170.3,573.65L163.6,570.08L163.6,562.92Z" fill="#fff" stroke="#00ff2a" stroke-width="1.15" stroke-linejoin="miter"/><path d="M170.3,559.35L177,562.92L177,570.08L170.3,573.65Z" fill="#00ff2a" stroke="#00ff2a" stroke-width="1.15"/><path d="M171.5,562.85L178.2,566.42L178.2,573.58L171.5,577.15L164.8,573.58L164.8,566.42Z" fill="#fff" stroke="#00ff2a" stroke-width="1.15" stroke-linejoin="miter"/><path d="M171.5,562.85L178.2,566.42L178.2,573.58L171.5,577.15Z" fill="#00ff2a" stroke="#00ff2a" stroke-width="1.15"/><path d="M172.8,566.35L179.5,569.92L179.5,577.08L172.8,580.65L166.1,577.08L166.1,569.92Z" fill="#fff" stroke="#00ff2a" stroke-width="1.15" stroke-linejoin="miter"/><path d="M172.8,566.35L179.5,569.92L179.5,577.08L172.8,580.65Z" fill="#00ff2a" stroke="#00ff2a" stroke-width="1.15"/><path d="M174.2,569.35L180.9,572.92L180.9,580.08L174.2,583.65L167.5,580.08L167.5,572.92Z" fill="#fff" stroke="#00ff2a" stroke-width="1.15" stroke-linejoin="miter"/><path d="M174.2,569.35L180.9,572.92L180.9,580.08L174.2,583.65Z" fill="#00ff2a" stroke="#00ff2a" stroke-width="1.15"/><path d="M175.7,571.85L182.4,575.42L182.4,582.58L175.7,586.15L169,582.58L169,575.42Z" fill="#fff" stroke="#00ff2a" stroke-width="1.15" stroke-linejoin="miter"/><path d="M175.7,571.85L182.4,575.42L182.4,582.58L175.7,586.15Z" fill="#00ff2a" stroke="#00ff2a" stroke-width="1.15"/><path d="M177.8,567.35L184.5,570.92L184.5,578.08L177.8,581.65L171.1,578.08L171.1,570.92Z" fill="#fff" stroke="#00ff2a" stroke-width="1.15" stroke-linejoin="miter"/><path d="M177.8,567.35L184.5,570.92L184.5,578.08L177.8,581.65Z" fill="#00ff2a" stroke="#00ff2a" stroke-width="1.15"/><path d="M179.2,559.55L185.9,563.12L185.9,570.28L179.2,573.85L172.5,570.28L172.5,563.12Z" fill="#fff" stroke="#00ff2a" stroke-width="1.15" stroke-linejoin="miter"/><path d="M179.2,559.55L185.9,563.12L185.9,570.28L179.2,573.85Z" fill="#00ff2a" stroke="#00ff2a" stroke-width="1.15"/><path d="M182.5,550.85L189.2,554.42L189.2,561.58L182.5,565.15L175.8,561.58L175.8,554.42Z" fill="#fff" stroke="#00ff2a" stroke-width="1.15" stroke-linejoin="miter"/><path d="M182.5,550.85L189.2,554.42L189.2,561.58L182.5,565.15Z" fill="#00ff2a" stroke="#00ff2a" stroke-width="1.15"/><path d="M186.3,541.95L193,545.52L193,552.68L186.3,556.25L179.6,552.68L179.6,545.52Z" fill="#fff" stroke="#00ff2a" stroke-width="1.15" stroke-linejoin="miter"/><path d="M186.3,541.95L193,545.52L193,552.68L186.3,556.25Z" fill="#00ff2a" stroke="#00ff2a" stroke-width="1.15"/><path d="M191.5,529.65L198.2,533.22L198.2,540.38L191.5,543.95L184.8,540.38L184.8,533.22Z" fill="#fff" stroke="#00ff2a" stroke-width="1.15" stroke-linejoin="miter"/><path d="M191.5,529.65L198.2,533.22L198.2,540.38L191.5,543.95Z" fill="#00ff2a" stroke="#00ff2a" stroke-width="1.15"/><path d="M195,516.85L201.7,520.42L201.7,527.58L195,531.15L188.3,527.58L188.3,520.42Z" fill="#fff" stroke="#00ff2a" stroke-width="1.15" stroke-linejoin="miter"/><path d="M195,516.85L201.7,520.42L201.7,527.58L195,531.15Z" fill="#00ff2a" stroke="#00ff2a" stroke-width="1.15"/><path d="M198.6,505.05L205.3,508.63L205.3,515.78L198.6,519.35L191.9,515.78L191.9,508.63Z" fill="#fff" stroke="#00ff2a" stroke-width="1.15" stroke-linejoin="miter"/><path d="M198.6,505.05L205.3,508.63L205.3,515.78L198.6,519.35Z" fill="#00ff2a" stroke="#00ff2a" stroke-width="1.15"/><path d="M202.5,493.75L209.2,497.32L209.2,504.47L202.5,508.05L195.8,504.47L195.8,497.32Z" fill="#fff" stroke="#00ff2a" stroke-width="1.15" stroke-linejoin="miter"/><path d="M202.5,493.75L209.2,497.32L209.2,504.47L202.5,508.05Z" fill="#00ff2a" stroke="#00ff2a" stroke-width="1.15"/><path d="M208.1,464.25L214.8,467.82L214.8,474.97L208.1,478.55L201.4,474.97L201.4,467.82Z" fill="#fff" stroke="#00ff2a" stroke-width="1.15" stroke-linejoin="miter"/><path d="M208.1,464.25L214.8,467.82L214.8,474.97L208.1,478.55Z" fill="#00ff2a" stroke="#00ff2a" stroke-width="1.15"/><path d="M217.3,437.55L224,441.12L224,448.27L217.3,451.85L210.6,448.27L210.6,441.12Z" fill="#fff" stroke="#00ff2a" stroke-width="1.15" stroke-linejoin="miter"/><path d="M217.3,437.55L224,441.12L224,448.27L217.3,451.85Z" fill="#00ff2a" stroke="#00ff2a" stroke-width="1.15"/><path d="M229.7,398.65L236.4,402.23L236.4,409.38L229.7,412.95L223,409.38L223,402.23Z" fill="#fff" stroke="#00ff2a" stroke-width="1.15" stroke-linejoin="miter"/><path d="M229.7,398.65L236.4,402.23L236.4,409.38L229.7,412.95Z" fill="#00ff2a" stroke="#00ff2a" stroke-width="1.15"/><path d="M247,355.85L253.7,359.43L253.7,366.57L247,370.15L240.3,366.57L240.3,359.43Z" fill="#fff" stroke="#00ff2a" stroke-width="1.15" stroke-linejoin="miter"/><path d="M247,355.85L253.7,359.43L253.7,366.57L247,370.15Z" fill="#00ff2a" stroke="#00ff2a" stroke-width="1.15"/><path d="M270.5,318.95L277.2,322.53L277.2,329.68L270.5,333.25L263.8,329.68L263.8,322.53Z" fill="#fff" stroke="#00ff2a" stroke-width="1.15" stroke-linejoin="miter"/><path d="M270.5,318.95L277.2,322.53L277.2,329.68L270.5,333.25Z" fill="#00ff2a" stroke="#00ff2a" stroke-width="1.15"/><path d="M298,290.85L304.7,294.43L304.7,301.57L298,305.15L291.3,301.57L291.3,294.43Z" fill="#fff" stroke="#00ff2a" stroke-width="1.15" stroke-linejoin="miter"/><path d="M298,290.85L304.7,294.43L304.7,301.57L298,305.15Z" fill="#00ff2a" stroke="#00ff2a" stroke-width="1.15"/><path d="M330.2,277.35L336.9,280.93L336.9,288.07L330.2,291.65L323.5,288.07L323.5,280.93Z" fill="#fff" stroke="#00ff2a" stroke-width="1.15" stroke-linejoin="miter"/><path d="M330.2,277.35L336.9,280.93L336.9,288.07L330.2,291.65Z" fill="#00ff2a" stroke="#00ff2a" stroke-width="1.15"/><path d="M361.9,279.85L368.6,283.43L368.6,290.57L361.9,294.15L355.2,290.57L355.2,283.43Z" fill="#fff" stroke="#00ff2a" stroke-width="1.15" stroke-linejoin="miter"/><path d="M361.9,279.85L368.6,283.43L368.6,290.57L361.9,294.15Z" fill="#00ff2a" stroke="#00ff2a" stroke-width="1.15"/><path d="M392.5,299.45L399.2,303.03L399.2,310.18L392.5,313.75L385.8,310.18L385.8,303.03Z" fill="#fff" stroke="#00ff2a" stroke-width="1.15" stroke-linejoin="miter"/><path d="M392.5,299.45L399.2,303.03L399.2,310.18L392.5,313.75Z" fill="#00ff2a" stroke="#00ff2a" stroke-width="1.15"/><path d="M417.7,331.25L424.4,334.82L424.4,341.97L417.7,345.55L411,341.97L411,334.82Z" fill="#fff" stroke="#00ff2a" stroke-width="1.15" stroke-linejoin="miter"/><path d="M417.7,331.25L424.4,334.82L424.4,341.97L417.7,345.55Z" fill="#00ff2a" stroke="#00ff2a" stroke-width="1.15"/><path d="M440,361.85L446.7,365.43L446.7,372.57L440,376.15L433.3,372.57L433.3,365.43Z" fill="#fff" stroke="#00ff2a" stroke-width="1.15" stroke-linejoin="miter"/><path d="M440,361.85L446.7,365.43L446.7,372.57L440,376.15Z" fill="#00ff2a" stroke="#00ff2a" stroke-width="1.15"/><path d="M457,394.6L463.7,398.18L463.7,405.32L457,408.9L450.3,405.32L450.3,398.18Z" fill="#fff" stroke="#00ff2a" stroke-width="1.15" stroke-linejoin="miter"/><path d="M457,394.6L463.7,398.18L463.7,405.32L457,408.9Z" fill="#00ff2a" stroke="#00ff2a" stroke-width="1.15"/><path d="M471.5,414.1L478.2,417.68L478.2,424.82L471.5,428.4L464.8,424.82L464.8,417.68Z" fill="#fff" stroke="#00ff2a" stroke-width="1.15" stroke-linejoin="miter"/><path d="M471.5,414.1L478.2,417.68L478.2,424.82L471.5,428.4Z" fill="#00ff2a" stroke="#00ff2a" stroke-width="1.15"/><path d="M487,420.35L493.7,423.93L493.7,431.07L487,434.65L480.3,431.07L480.3,423.93Z" fill="#fff" stroke="#00ff2a" stroke-width="1.15" stroke-linejoin="miter"/><path d="M487,420.35L493.7,423.93L493.7,431.07L487,434.65Z" fill="#00ff2a" stroke="#00ff2a" stroke-width="1.15"/><path d="M505.5,411.1L512.2,414.68L512.2,421.82L505.5,425.4L498.8,421.82L498.8,414.68Z" fill="#fff" stroke="#00ff2a" stroke-width="1.15" stroke-linejoin="miter"/><path d="M505.5,411.1L512.2,414.68L512.2,421.82L505.5,425.4Z" fill="#00ff2a" stroke="#00ff2a" stroke-width="1.15"/><path d="M528,385.6L534.7,389.18L534.7,396.32L528,399.9L521.3,396.32L521.3,389.18Z" fill="#fff" stroke="#00ff2a" stroke-width="1.15" stroke-linejoin="miter"/><path d="M528,385.6L534.7,389.18L534.7,396.32L528,399.9Z" fill="#00ff2a" stroke="#00ff2a" stroke-width="1.15"/><path d="M559.6,345.35L566.3,348.93L566.3,356.07L559.6,359.65L552.9,356.07L552.9,348.93Z" fill="#fff" stroke="#00ff2a" stroke-width="1.15" stroke-linejoin="miter"/><path d="M559.6,345.35L566.3,348.93L566.3,356.07L559.6,359.65Z" fill="#00ff2a" stroke="#00ff2a" stroke-width="1.15"/><path d="M603.9,281.35L610.6,284.93L610.6,292.07L603.9,295.65L597.2,292.07L597.2,284.93Z" fill="#fff" stroke="#00ff2a" stroke-width="1.15" stroke-linejoin="miter"/><path d="M603.9,281.35L610.6,284.93L610.6,292.07L603.9,295.65Z" fill="#00ff2a" stroke="#00ff2a" stroke-width="1.15"/>
<path d="M184.12,581.54L167.48,393.36M167.17,393.38L170.93,459.32M173.52,479.09L175.88,490.51M246.26,498.66L247.44,492.04M251.91,472.57L258.09,450.63M263.41,431.35L268.89,411.15M274.01,391.82L281.49,362.88M286.9,343.63L299.1,303.32M305.61,284.42L325.64,232.58M333.65,214.27L359.85,160.73M370,143.57L403,96.68M417.02,82.87L453.73,57.88M471.81,50.32L508.09,43.18M527.6,43.68L563.05,52.57M580.51,61.31L614.49,88.94M628.63,102.95L659.62,140.3M671.45,156.38L696.3,194.62M707.15,211.42L724.1,237.83M735.97,253.88L746.78,266.62M763.07,276.15L767.93,277.1M785.05,272.17L797.95,260.08M810.06,244.49L832.44,203.76" fill="none" stroke="#9a4dff" stroke-width="2.6" stroke-linecap="butt"/><path d="M185,584.35L191.7,587.92L191.7,595.08L185,598.65L178.3,595.08L178.3,587.92Z" fill="#fff" stroke="#9a4dff" stroke-width="1.15" stroke-linejoin="miter"/><path d="M185,584.35L191.7,587.92L191.7,595.08L185,598.65Z" fill="#9a4dff" stroke="#9a4dff" stroke-width="1.15"/><path d="M166.6,376.25L173.3,379.82L173.3,386.97L166.6,390.55L159.9,386.97L159.9,379.82Z" fill="#fff" stroke="#9a4dff" stroke-width="1.15" stroke-linejoin="miter"/><path d="M166.6,376.25L173.3,379.82L173.3,386.97L166.6,390.55Z" fill="#9a4dff" stroke="#9a4dff" stroke-width="1.15"/><path d="M171.5,462.15L178.2,465.73L178.2,472.88L171.5,476.45L164.8,472.88L164.8,465.73Z" fill="#fff" stroke="#9a4dff" stroke-width="1.15" stroke-linejoin="miter"/><path d="M171.5,462.15L178.2,465.73L178.2,472.88L171.5,476.45Z" fill="#9a4dff" stroke="#9a4dff" stroke-width="1.15"/><path d="M177.9,493.15L184.6,496.73L184.6,503.88L177.9,507.45L171.2,503.88L171.2,496.73Z" fill="#fff" stroke="#9a4dff" stroke-width="1.15" stroke-linejoin="miter"/><path d="M177.9,493.15L184.6,496.73L184.6,503.88L177.9,507.45Z" fill="#9a4dff" stroke="#9a4dff" stroke-width="1.15"/><path d="M183.6,502.85L190.3,506.43L190.3,513.58L183.6,517.15L176.9,513.58L176.9,506.43Z" fill="#fff" stroke="#9a4dff" stroke-width="1.15" stroke-linejoin="miter"/><path d="M183.6,502.85L190.3,506.43L190.3,513.58L183.6,517.15Z" fill="#9a4dff" stroke="#9a4dff" stroke-width="1.15"/><path d="M189.3,509.85L196,513.42L196,520.58L189.3,524.15L182.6,520.58L182.6,513.42Z" fill="#fff" stroke="#9a4dff" stroke-width="1.15" stroke-linejoin="miter"/><path d="M189.3,509.85L196,513.42L196,520.58L189.3,524.15Z" fill="#9a4dff" stroke="#9a4dff" stroke-width="1.15"/><path d="M195.5,516.85L202.2,520.42L202.2,527.58L195.5,531.15L188.8,527.58L188.8,520.42Z" fill="#fff" stroke="#9a4dff" stroke-width="1.15" stroke-linejoin="miter"/><path d="M195.5,516.85L202.2,520.42L202.2,527.58L195.5,531.15Z" fill="#9a4dff" stroke="#9a4dff" stroke-width="1.15"/><path d="M201.6,523.95L208.3,527.52L208.3,534.68L201.6,538.25L194.9,534.68L194.9,527.52Z" fill="#fff" stroke="#9a4dff" stroke-width="1.15" stroke-linejoin="miter"/><path d="M201.6,523.95L208.3,527.52L208.3,534.68L201.6,538.25Z" fill="#9a4dff" stroke="#9a4dff" stroke-width="1.15"/><path d="M206,535.85L212.7,539.42L212.7,546.58L206,550.15L199.3,546.58L199.3,539.42Z" fill="#fff" stroke="#9a4dff" stroke-width="1.15" stroke-linejoin="miter"/><path d="M206,535.85L212.7,539.42L212.7,546.58L206,550.15Z" fill="#9a4dff" stroke="#9a4dff" stroke-width="1.15"/><path d="M209.6,543.25L216.3,546.82L216.3,553.98L209.6,557.55L202.9,553.98L202.9,546.82Z" fill="#fff" stroke="#9a4dff" stroke-width="1.15" stroke-linejoin="miter"/><path d="M209.6,543.25L216.3,546.82L216.3,553.98L209.6,557.55Z" fill="#9a4dff" stroke="#9a4dff" stroke-width="1.15"/><path d="M215.7,554.75L222.4,558.32L222.4,565.48L215.7,569.05L209,565.48L209,558.32Z" fill="#fff" stroke="#9a4dff" stroke-width="1.15" stroke-linejoin="miter"/><path d="M215.7,554.75L222.4,558.32L222.4,565.48L215.7,569.05Z" fill="#9a4dff" stroke="#9a4dff" stroke-width="1.15"/><path d="M223.2,555.55L229.9,559.12L229.9,566.28L223.2,569.85L216.5,566.28L216.5,559.12Z" fill="#fff" stroke="#9a4dff" stroke-width="1.15" stroke-linejoin="miter"/><path d="M223.2,555.55L229.9,559.12L229.9,566.28L223.2,569.85Z" fill="#9a4dff" stroke="#9a4dff" stroke-width="1.15"/><path d="M229.3,545.05L236,548.62L236,555.78L229.3,559.35L222.6,555.78L222.6,548.62Z" fill="#fff" stroke="#9a4dff" stroke-width="1.15" stroke-linejoin="miter"/><path d="M229.3,545.05L236,548.62L236,555.78L229.3,559.35Z" fill="#9a4dff" stroke="#9a4dff" stroke-width="1.15"/><path d="M232,528.35L238.7,531.92L238.7,539.08L232,542.65L225.3,539.08L225.3,531.92Z" fill="#fff" stroke="#9a4dff" stroke-width="1.15" stroke-linejoin="miter"/><path d="M232,528.35L238.7,531.92L238.7,539.08L232,542.65Z" fill="#9a4dff" stroke="#9a4dff" stroke-width="1.15"/><path d="M234.2,511.25L240.9,514.82L240.9,521.98L234.2,525.55L227.5,521.98L227.5,514.82Z" fill="#fff" stroke="#9a4dff" stroke-width="1.15" stroke-linejoin="miter"/><path d="M234.2,511.25L240.9,514.82L240.9,521.98L234.2,525.55Z" fill="#9a4dff" stroke="#9a4dff" stroke-width="1.15"/><path d="M240.3,502.85L247,506.43L247,513.58L240.3,517.15L233.6,513.58L233.6,506.43Z" fill="#fff" stroke="#9a4dff" stroke-width="1.15" stroke-linejoin="miter"/><path d="M240.3,502.85L247,506.43L247,513.58L240.3,517.15Z" fill="#9a4dff" stroke="#9a4dff" stroke-width="1.15"/><path d="M244.5,501.35L251.2,504.93L251.2,512.08L244.5,515.65L237.8,512.08L237.8,504.93Z" fill="#fff" stroke="#9a4dff" stroke-width="1.15" stroke-linejoin="miter"/><path d="M244.5,501.35L251.2,504.93L251.2,512.08L244.5,515.65Z" fill="#9a4dff" stroke="#9a4dff" stroke-width="1.15"/><path d="M249.2,475.05L255.9,478.62L255.9,485.77L249.2,489.35L242.5,485.77L242.5,478.62Z" fill="#fff" stroke="#9a4dff" stroke-width="1.15" stroke-linejoin="miter"/><path d="M249.2,475.05L255.9,478.62L255.9,485.77L249.2,489.35Z" fill="#9a4dff" stroke="#9a4dff" stroke-width="1.15"/><path d="M260.8,433.85L267.5,437.43L267.5,444.57L260.8,448.15L254.1,444.57L254.1,437.43Z" fill="#fff" stroke="#9a4dff" stroke-width="1.15" stroke-linejoin="miter"/><path d="M260.8,433.85L267.5,437.43L267.5,444.57L260.8,448.15Z" fill="#9a4dff" stroke="#9a4dff" stroke-width="1.15"/><path d="M271.5,394.35L278.2,397.93L278.2,405.07L271.5,408.65L264.8,405.07L264.8,397.93Z" fill="#fff" stroke="#9a4dff" stroke-width="1.15" stroke-linejoin="miter"/><path d="M271.5,394.35L278.2,397.93L278.2,405.07L271.5,408.65Z" fill="#9a4dff" stroke="#9a4dff" stroke-width="1.15"/><path d="M284,346.05L290.7,349.62L290.7,356.77L284,360.35L277.3,356.77L277.3,349.62Z" fill="#fff" stroke="#9a4dff" stroke-width="1.15" stroke-linejoin="miter"/><path d="M284,346.05L290.7,349.62L290.7,356.77L284,360.35Z" fill="#9a4dff" stroke="#9a4dff" stroke-width="1.15"/><path d="M302,286.6L308.7,290.18L308.7,297.32L302,300.9L295.3,297.32L295.3,290.18Z" fill="#fff" stroke="#9a4dff" stroke-width="1.15" stroke-linejoin="miter"/><path d="M302,286.6L308.7,290.18L308.7,297.32L302,300.9Z" fill="#9a4dff" stroke="#9a4dff" stroke-width="1.15"/><path d="M329.25,216.1L335.95,219.68L335.95,226.82L329.25,230.4L322.55,226.82L322.55,219.68Z" fill="#fff" stroke="#9a4dff" stroke-width="1.15" stroke-linejoin="miter"/><path d="M329.25,216.1L335.95,219.68L335.95,226.82L329.25,230.4Z" fill="#9a4dff" stroke="#9a4dff" stroke-width="1.15"/><path d="M364.25,144.6L370.95,148.18L370.95,155.32L364.25,158.9L357.55,155.32L357.55,148.18Z" fill="#fff" stroke="#9a4dff" stroke-width="1.15" stroke-linejoin="miter"/><path d="M364.25,144.6L370.95,148.18L370.95,155.32L364.25,158.9Z" fill="#9a4dff" stroke="#9a4dff" stroke-width="1.15"/><path d="M408.75,81.35L415.45,84.92L415.45,92.08L408.75,95.65L402.05,92.08L402.05,84.92Z" fill="#fff" stroke="#9a4dff" stroke-width="1.15" stroke-linejoin="miter"/><path d="M408.75,81.35L415.45,84.92L415.45,92.08L408.75,95.65Z" fill="#9a4dff" stroke="#9a4dff" stroke-width="1.15"/><path d="M462,45.1L468.7,48.67L468.7,55.83L462,59.4L455.3,55.83L455.3,48.67Z" fill="#fff" stroke="#9a4dff" stroke-width="1.15" stroke-linejoin="miter"/><path d="M462,45.1L468.7,48.67L468.7,55.83L462,59.4Z" fill="#9a4dff" stroke="#9a4dff" stroke-width="1.15"/><path d="M517.9,34.1L524.6,37.67L524.6,44.83L517.9,48.4L511.2,44.83L511.2,37.67Z" fill="#fff" stroke="#9a4dff" stroke-width="1.15" stroke-linejoin="miter"/><path d="M517.9,34.1L524.6,37.67L524.6,44.83L517.9,48.4Z" fill="#9a4dff" stroke="#9a4dff" stroke-width="1.15"/><path d="M572.75,47.85L579.45,51.42L579.45,58.58L572.75,62.15L566.05,58.58L566.05,51.42Z" fill="#fff" stroke="#9a4dff" stroke-width="1.15" stroke-linejoin="miter"/><path d="M572.75,47.85L579.45,51.42L579.45,58.58L572.75,62.15Z" fill="#9a4dff" stroke="#9a4dff" stroke-width="1.15"/><path d="M622.25,88.1L628.95,91.67L628.95,98.83L622.25,102.4L615.55,98.83L615.55,91.67Z" fill="#fff" stroke="#9a4dff" stroke-width="1.15" stroke-linejoin="miter"/><path d="M622.25,88.1L628.95,91.67L628.95,98.83L622.25,102.4Z" fill="#9a4dff" stroke="#9a4dff" stroke-width="1.15"/><path d="M666,140.85L672.7,144.43L672.7,151.57L666,155.15L659.3,151.57L659.3,144.43Z" fill="#fff" stroke="#9a4dff" stroke-width="1.15" stroke-linejoin="miter"/><path d="M666,140.85L672.7,144.43L672.7,151.57L666,155.15Z" fill="#9a4dff" stroke="#9a4dff" stroke-width="1.15"/><path d="M701.75,195.85L708.45,199.43L708.45,206.57L701.75,210.15L695.05,206.57L695.05,199.43Z" fill="#fff" stroke="#9a4dff" stroke-width="1.15" stroke-linejoin="miter"/><path d="M701.75,195.85L708.45,199.43L708.45,206.57L701.75,210.15Z" fill="#9a4dff" stroke="#9a4dff" stroke-width="1.15"/><path d="M729.5,239.1L736.2,242.68L736.2,249.82L729.5,253.4L722.8,249.82L722.8,242.68Z" fill="#fff" stroke="#9a4dff" stroke-width="1.15" stroke-linejoin="miter"/><path d="M729.5,239.1L736.2,242.68L736.2,249.82L729.5,253.4Z" fill="#9a4dff" stroke="#9a4dff" stroke-width="1.15"/><path d="M753.25,267.1L759.95,270.68L759.95,277.82L753.25,281.4L746.55,277.82L746.55,270.68Z" fill="#fff" stroke="#9a4dff" stroke-width="1.15" stroke-linejoin="miter"/><path d="M753.25,267.1L759.95,270.68L759.95,277.82L753.25,281.4Z" fill="#9a4dff" stroke="#9a4dff" stroke-width="1.15"/><path d="M777.75,271.85L784.45,275.43L784.45,282.57L777.75,286.15L771.05,282.57L771.05,275.43Z" fill="#fff" stroke="#9a4dff" stroke-width="1.15" stroke-linejoin="miter"/><path d="M777.75,271.85L784.45,275.43L784.45,282.57L777.75,286.15Z" fill="#9a4dff" stroke="#9a4dff" stroke-width="1.15"/><path d="M805.25,246.1L811.95,249.68L811.95,256.82L805.25,260.4L798.55,256.82L798.55,249.68Z" fill="#fff" stroke="#9a4dff" stroke-width="1.15" stroke-linejoin="miter"/><path d="M805.25,246.1L811.95,249.68L811.95,256.82L805.25,260.4Z" fill="#9a4dff" stroke="#9a4dff" stroke-width="1.15"/><path d="M837.25,187.85L843.95,191.43L843.95,198.57L837.25,202.15L830.55,198.57L830.55,191.43Z" fill="#fff" stroke="#9a4dff" stroke-width="1.15" stroke-linejoin="miter"/><path d="M837.25,187.85L843.95,191.43L843.95,198.57L837.25,202.15Z" fill="#9a4dff" stroke="#9a4dff" stroke-width="1.15"/>
</g>
<rect x="135.2" y="16.5" width="767.0" height="577.5" fill="none" stroke="#000" stroke-width="4.0"/>
<path d="M135,594.0V604.8M210.25,594.0V599.5M285.5,594.0V604.8M360.75,594.0V599.5M436,594.0V604.8M511.25,594.0V599.5M586.5,594.0V604.8M661.75,594.0V599.5M737,594.0V604.8M812.25,594.0V599.5M887.5,594.0V604.8" stroke="#000" stroke-width="4" fill="none"/>
<text transform="translate(128.12,632.30) scale(1.0455,1)" font-family='"Liberation Sans", Arial, sans-serif' font-weight="bold" font-size="24.73" fill="#000" >0</text>
<text transform="translate(264.30,632.30) scale(1.0455,1)" font-family='"Liberation Sans", Arial, sans-serif' font-weight="bold" font-size="24.73" fill="#000" >200</text>
<text transform="translate(415.06,632.30) scale(1.0455,1)" font-family='"Liberation Sans", Arial, sans-serif' font-weight="bold" font-size="24.73" fill="#000" >400</text>
<text transform="translate(565.27,632.30) scale(1.0455,1)" font-family='"Liberation Sans", Arial, sans-serif' font-weight="bold" font-size="24.73" fill="#000" >600</text>
<text transform="translate(715.84,632.30) scale(1.0455,1)" font-family='"Liberation Sans", Arial, sans-serif' font-weight="bold" font-size="24.73" fill="#000" >800</text>
<text transform="translate(858.77,632.30) scale(1.0455,1)" font-family='"Liberation Sans", Arial, sans-serif' font-weight="bold" font-size="24.73" fill="#000" >1000</text>
<text transform="translate(107.68,600.90) scale(1.0186,1)" font-family='"Liberation Sans", Arial, sans-serif' font-weight="bold" font-size="25.58" fill="#000" >0</text>
<text transform="translate(93.22,485.40) scale(1.0186,1)" font-family='"Liberation Sans", Arial, sans-serif' font-weight="bold" font-size="25.58" fill="#000" >50</text>
<text transform="translate(78.69,369.90) scale(1.0186,1)" font-family='"Liberation Sans", Arial, sans-serif' font-weight="bold" font-size="25.58" fill="#000" >100</text>
<text transform="translate(78.69,254.40) scale(1.0186,1)" font-family='"Liberation Sans", Arial, sans-serif' font-weight="bold" font-size="25.58" fill="#000" >150</text>
<text transform="translate(78.69,138.90) scale(1.0186,1)" font-family='"Liberation Sans", Arial, sans-serif' font-weight="bold" font-size="25.58" fill="#000" >200</text>
<text transform="translate(78.69,24.50) scale(1.0186,1)" font-family='"Liberation Sans", Arial, sans-serif' font-weight="bold" font-size="25.58" fill="#000" >250</text>
<text transform="translate(451.72,675.69) scale(1.0621,1)" font-family='"Liberation Sans", Arial, sans-serif' font-weight="bold" font-size="30.88" fill="#000" >Z' (Ω)</text>
<text transform="translate(45.54,388.79) rotate(-90) scale(0.9088,1)" font-family='"Liberation Sans", Arial, sans-serif' font-weight="bold" font-size="32.60" fill="#000" >-Z'' (Ω)</text>
<text transform="translate(14.12,35.05) scale(1.0147,1)" font-family='"Liberation Sans", Arial, sans-serif' font-weight="bold" font-size="46.97" fill="#000" >(a)</text>
<path d="M629.8,432.0H647.2M664,432.0H681.7" stroke="#000000" stroke-width="2.6" fill="none"/>
<path d="M655.6,424.8L662.4,428.4L662.4,435.6L655.6,439.2L648.8,435.6L648.8,428.4Z" fill="#fff" stroke="#000000" stroke-width="1.3" stroke-linejoin="miter"/><path d="M655.6,424.8L662.4,428.4L662.4,435.6L655.6,439.2Z" fill="#000000" stroke="#000000" stroke-width="1.3"/>
<text transform="translate(687.35,439.20) scale(1.1210,1)" font-family='"Liberation Sans", Arial, sans-serif' font-weight="bold" font-size="23.18" fill="#000" >Regular-PEO</text>
<path d="M629.8,462.0H647.2M664,462.0H681.7" stroke="#ff0000" stroke-width="2.6" fill="none"/>
<path d="M655.6,454.8L662.4,458.4L662.4,465.6L655.6,469.2L648.8,465.6L648.8,458.4Z" fill="#fff" stroke="#ff0000" stroke-width="1.3" stroke-linejoin="miter"/><path d="M655.6,454.8L662.4,458.4L662.4,465.6L655.6,469.2Z" fill="#ff0000" stroke="#ff0000" stroke-width="1.3"/>
<text transform="translate(687.20,469.20) scale(1.1127,1)" font-family='"Liberation Sans", Arial, sans-serif' font-weight="bold" font-size="23.18" fill="#000" >7wt.%PEG-PPG</text>
<path d="M629.8,492.5H647.2M664,492.5H681.7" stroke="#2aa4f7" stroke-width="2.6" fill="none"/>
<path d="M655.6,485.3L662.4,488.9L662.4,496.1L655.6,499.7L648.8,496.1L648.8,488.9Z" fill="#fff" stroke="#2aa4f7" stroke-width="1.3" stroke-linejoin="miter"/><path d="M655.6,485.3L662.4,488.9L662.4,496.1L655.6,499.7Z" fill="#2aa4f7" stroke="#2aa4f7" stroke-width="1.3"/>
<text transform="translate(689.20,499.70) scale(1.1041,1)" font-family='"Liberation Sans", Arial, sans-serif' font-weight="bold" font-size="23.18" fill="#000" >10wt.%PEG-PPG</text>
<path d="M629.8,523.0H647.2M664,523.0H681.7" stroke="#00ff2a" stroke-width="2.6" fill="none"/>
<path d="M655.6,515.8L662.4,519.4L662.4,526.6L655.6,530.2L648.8,526.6L648.8,519.4Z" fill="#fff" stroke="#00ff2a" stroke-width="1.3" stroke-linejoin="miter"/><path d="M655.6,515.8L662.4,519.4L662.4,526.6L655.6,530.2Z" fill="#00ff2a" stroke="#00ff2a" stroke-width="1.3"/>
<text transform="translate(689.20,530.20) scale(1.1041,1)" font-family='"Liberation Sans", Arial, sans-serif' font-weight="bold" font-size="23.18" fill="#000" >13wt.%PEG-PPG</text>
<path d="M629.8,554.3H647.2M664,554.3H681.7" stroke="#9a4dff" stroke-width="2.6" fill="none"/>
<path d="M655.6,547.1L662.4,550.7L662.4,557.9L655.6,561.5L648.8,557.9L648.8,550.7Z" fill="#fff" stroke="#9a4dff" stroke-width="1.3" stroke-linejoin="miter"/><path d="M655.6,547.1L662.4,550.7L662.4,557.9L655.6,561.5Z" fill="#9a4dff" stroke="#9a4dff" stroke-width="1.3"/>
<text transform="translate(689.20,561.20) scale(1.1041,1)" font-family='"Liberation Sans", Arial, sans-serif' font-weight="bold" font-size="23.18" fill="#000" >15wt.%PEG-PPG</text>
<clipPath id="cb"><rect x="1038.8" y="18.0" width="768.8" height="566.3"/></clipPath>
<g clip-path="url(#cb)">
<path d="M1020,494L1070.09,395.86" fill="none" stroke="#000000" stroke-width="2.05"/><path d="M1074.54,396.78L1078.96,467.42M1080.5,484.54L1083.2,507.76M1132.5,507.76L1133.3,501.04M1138.28,484.87L1138.82,483.83M1145.48,468.03L1149.32,456.27M1155.11,440.08L1160.89,425.22M1168.08,409.63L1176.52,393.97M1184.71,378.85L1194.39,361.05M1204.47,347.31L1217.63,333.69M1231.27,323.61L1243.08,317.64M1259.31,314.56L1271.34,315.69M1287.37,320.76L1300.93,328.49M1313.38,339.76L1326.02,357.59M1335.34,372.02L1345.16,388.83M1353.22,404L1360.53,419.25M1367.83,434.82L1371.42,442.68M1413.97,459.33L1415.28,458.17" fill="none" stroke="#000000" stroke-width="2.05" stroke-linecap="butt"/><path d="M1074,381.6L1080.3,384.9L1080.3,391.5L1074,394.8L1067.7,391.5L1067.7,384.9Z" fill="#fff" stroke="#000000" stroke-width="1.0" stroke-linejoin="miter"/><path d="M1074,381.6L1080.3,384.9L1080.3,391.5L1074,394.8Z" fill="#000000" stroke="#000000" stroke-width="1.0"/><path d="M1079.5,469.4L1085.8,472.7L1085.8,479.3L1079.5,482.6L1073.2,479.3L1073.2,472.7Z" fill="#fff" stroke="#000000" stroke-width="1.0" stroke-linejoin="miter"/><path d="M1079.5,469.4L1085.8,472.7L1085.8,479.3L1079.5,482.6Z" fill="#000000" stroke="#000000" stroke-width="1.0"/><path d="M1084.2,509.7L1090.5,513L1090.5,519.6L1084.2,522.9L1077.9,519.6L1077.9,513Z" fill="#fff" stroke="#000000" stroke-width="1.0" stroke-linejoin="miter"/><path d="M1084.2,509.7L1090.5,513L1090.5,519.6L1084.2,522.9Z" fill="#000000" stroke="#000000" stroke-width="1.0"/><path d="M1087.7,517.6L1094,520.9L1094,527.5L1087.7,530.8L1081.4,527.5L1081.4,520.9Z" fill="#fff" stroke="#000000" stroke-width="1.0" stroke-linejoin="miter"/><path d="M1087.7,517.6L1094,520.9L1094,527.5L1087.7,530.8Z" fill="#000000" stroke="#000000" stroke-width="1.0"/><path d="M1091.5,524.4L1097.8,527.7L1097.8,534.3L1091.5,537.6L1085.2,534.3L1085.2,527.7Z" fill="#fff" stroke="#000000" stroke-width="1.0" stroke-linejoin="miter"/><path d="M1091.5,524.4L1097.8,527.7L1097.8,534.3L1091.5,537.6Z" fill="#000000" stroke="#000000" stroke-width="1.0"/><path d="M1095.5,531.03L1101.8,534.33L1101.8,540.93L1095.5,544.23L1089.2,540.93L1089.2,534.33Z" fill="#fff" stroke="#000000" stroke-width="1.0" stroke-linejoin="miter"/><path d="M1095.5,531.03L1101.8,534.33L1101.8,540.93L1095.5,544.23Z" fill="#000000" stroke="#000000" stroke-width="1.0"/><path d="M1099.5,537.67L1105.8,540.97L1105.8,547.57L1099.5,550.87L1093.2,547.57L1093.2,540.97Z" fill="#fff" stroke="#000000" stroke-width="1.0" stroke-linejoin="miter"/><path d="M1099.5,537.67L1105.8,540.97L1105.8,547.57L1099.5,550.87Z" fill="#000000" stroke="#000000" stroke-width="1.0"/><path d="M1103.5,544.3L1109.8,547.6L1109.8,554.2L1103.5,557.5L1097.2,554.2L1097.2,547.6Z" fill="#fff" stroke="#000000" stroke-width="1.0" stroke-linejoin="miter"/><path d="M1103.5,544.3L1109.8,547.6L1109.8,554.2L1103.5,557.5Z" fill="#000000" stroke="#000000" stroke-width="1.0"/><path d="M1107,549.99L1113.3,553.29L1113.3,559.89L1107,563.19L1100.7,559.89L1100.7,553.29Z" fill="#fff" stroke="#000000" stroke-width="1.0" stroke-linejoin="miter"/><path d="M1107,549.99L1113.3,553.29L1113.3,559.89L1107,563.19Z" fill="#000000" stroke="#000000" stroke-width="1.0"/><path d="M1110.5,554.73L1116.8,558.03L1116.8,564.63L1110.5,567.93L1104.2,564.63L1104.2,558.03Z" fill="#fff" stroke="#000000" stroke-width="1.0" stroke-linejoin="miter"/><path d="M1110.5,554.73L1116.8,558.03L1116.8,564.63L1110.5,567.93Z" fill="#000000" stroke="#000000" stroke-width="1.0"/><path d="M1114.1,557.1L1120.4,560.4L1120.4,567L1114.1,570.3L1107.8,567L1107.8,560.4Z" fill="#fff" stroke="#000000" stroke-width="1.0" stroke-linejoin="miter"/><path d="M1114.1,557.1L1120.4,560.4L1120.4,567L1114.1,570.3Z" fill="#000000" stroke="#000000" stroke-width="1.0"/><path d="M1118,553.78L1124.3,557.08L1124.3,563.68L1118,566.98L1111.7,563.68L1111.7,557.08Z" fill="#fff" stroke="#000000" stroke-width="1.0" stroke-linejoin="miter"/><path d="M1118,553.78L1124.3,557.08L1124.3,563.68L1118,566.98Z" fill="#000000" stroke="#000000" stroke-width="1.0"/><path d="M1122,547.15L1128.3,550.45L1128.3,557.05L1122,560.35L1115.7,557.05L1115.7,550.45Z" fill="#fff" stroke="#000000" stroke-width="1.0" stroke-linejoin="miter"/><path d="M1122,547.15L1128.3,550.45L1128.3,557.05L1122,560.35Z" fill="#000000" stroke="#000000" stroke-width="1.0"/><path d="M1126,538.62L1132.3,541.92L1132.3,548.52L1126,551.82L1119.7,548.52L1119.7,541.92Z" fill="#fff" stroke="#000000" stroke-width="1.0" stroke-linejoin="miter"/><path d="M1126,538.62L1132.3,541.92L1132.3,548.52L1126,551.82Z" fill="#000000" stroke="#000000" stroke-width="1.0"/><path d="M1131,526.3L1137.3,529.6L1137.3,536.2L1131,539.5L1124.7,536.2L1124.7,529.6Z" fill="#fff" stroke="#000000" stroke-width="1.0" stroke-linejoin="miter"/><path d="M1131,526.3L1137.3,529.6L1137.3,536.2L1131,539.5Z" fill="#000000" stroke="#000000" stroke-width="1.0"/><path d="M1131.5,509.7L1137.8,513L1137.8,519.6L1131.5,522.9L1125.2,519.6L1125.2,513Z" fill="#fff" stroke="#000000" stroke-width="1.0" stroke-linejoin="miter"/><path d="M1131.5,509.7L1137.8,513L1137.8,519.6L1131.5,522.9Z" fill="#000000" stroke="#000000" stroke-width="1.0"/><path d="M1134.3,485.9L1140.6,489.2L1140.6,495.8L1134.3,499.1L1128,495.8L1128,489.2Z" fill="#fff" stroke="#000000" stroke-width="1.0" stroke-linejoin="miter"/><path d="M1134.3,485.9L1140.6,489.2L1140.6,495.8L1134.3,499.1Z" fill="#000000" stroke="#000000" stroke-width="1.0"/><path d="M1142.8,469.6L1149.1,472.9L1149.1,479.5L1142.8,482.8L1136.5,479.5L1136.5,472.9Z" fill="#fff" stroke="#000000" stroke-width="1.0" stroke-linejoin="miter"/><path d="M1142.8,469.6L1149.1,472.9L1149.1,479.5L1142.8,482.8Z" fill="#000000" stroke="#000000" stroke-width="1.0"/><path d="M1152,441.5L1158.3,444.8L1158.3,451.4L1152,454.7L1145.7,451.4L1145.7,444.8Z" fill="#fff" stroke="#000000" stroke-width="1.0" stroke-linejoin="miter"/><path d="M1152,441.5L1158.3,444.8L1158.3,451.4L1152,454.7Z" fill="#000000" stroke="#000000" stroke-width="1.0"/><path d="M1164,410.6L1170.3,413.9L1170.3,420.5L1164,423.8L1157.7,420.5L1157.7,413.9Z" fill="#fff" stroke="#000000" stroke-width="1.0" stroke-linejoin="miter"/><path d="M1164,410.6L1170.3,413.9L1170.3,420.5L1164,423.8Z" fill="#000000" stroke="#000000" stroke-width="1.0"/><path d="M1180.6,379.8L1186.9,383.1L1186.9,389.7L1180.6,393L1174.3,389.7L1174.3,383.1Z" fill="#fff" stroke="#000000" stroke-width="1.0" stroke-linejoin="miter"/><path d="M1180.6,379.8L1186.9,383.1L1186.9,389.7L1180.6,393Z" fill="#000000" stroke="#000000" stroke-width="1.0"/><path d="M1198.5,346.9L1204.8,350.2L1204.8,356.8L1198.5,360.1L1192.2,356.8L1192.2,350.2Z" fill="#fff" stroke="#000000" stroke-width="1.0" stroke-linejoin="miter"/><path d="M1198.5,346.9L1204.8,350.2L1204.8,356.8L1198.5,360.1Z" fill="#000000" stroke="#000000" stroke-width="1.0"/><path d="M1223.6,320.9L1229.9,324.2L1229.9,330.8L1223.6,334.1L1217.3,330.8L1217.3,324.2Z" fill="#fff" stroke="#000000" stroke-width="1.0" stroke-linejoin="miter"/><path d="M1223.6,320.9L1229.9,324.2L1229.9,330.8L1223.6,334.1Z" fill="#000000" stroke="#000000" stroke-width="1.0"/><path d="M1250.75,307.15L1257.05,310.45L1257.05,317.05L1250.75,320.35L1244.45,317.05L1244.45,310.45Z" fill="#fff" stroke="#000000" stroke-width="1.0" stroke-linejoin="miter"/><path d="M1250.75,307.15L1257.05,310.45L1257.05,317.05L1250.75,320.35Z" fill="#000000" stroke="#000000" stroke-width="1.0"/><path d="M1279.9,309.9L1286.2,313.2L1286.2,319.8L1279.9,323.1L1273.6,319.8L1273.6,313.2Z" fill="#fff" stroke="#000000" stroke-width="1.0" stroke-linejoin="miter"/><path d="M1279.9,309.9L1286.2,313.2L1286.2,319.8L1279.9,323.1Z" fill="#000000" stroke="#000000" stroke-width="1.0"/><path d="M1308.4,326.15L1314.7,329.45L1314.7,336.05L1308.4,339.35L1302.1,336.05L1302.1,329.45Z" fill="#fff" stroke="#000000" stroke-width="1.0" stroke-linejoin="miter"/><path d="M1308.4,326.15L1314.7,329.45L1314.7,336.05L1308.4,339.35Z" fill="#000000" stroke="#000000" stroke-width="1.0"/><path d="M1331,358L1337.3,361.3L1337.3,367.9L1331,371.2L1324.7,367.9L1324.7,361.3Z" fill="#fff" stroke="#000000" stroke-width="1.0" stroke-linejoin="miter"/><path d="M1331,358L1337.3,361.3L1337.3,367.9L1331,371.2Z" fill="#000000" stroke="#000000" stroke-width="1.0"/><path d="M1349.5,389.65L1355.8,392.95L1355.8,399.55L1349.5,402.85L1343.2,399.55L1343.2,392.95Z" fill="#fff" stroke="#000000" stroke-width="1.0" stroke-linejoin="miter"/><path d="M1349.5,389.65L1355.8,392.95L1355.8,399.55L1349.5,402.85Z" fill="#000000" stroke="#000000" stroke-width="1.0"/><path d="M1364.25,420.4L1370.55,423.7L1370.55,430.3L1364.25,433.6L1357.95,430.3L1357.95,423.7Z" fill="#fff" stroke="#000000" stroke-width="1.0" stroke-linejoin="miter"/><path d="M1364.25,420.4L1370.55,423.7L1370.55,430.3L1364.25,433.6Z" fill="#000000" stroke="#000000" stroke-width="1.0"/><path d="M1375,443.9L1381.3,447.2L1381.3,453.8L1375,457.1L1368.7,453.8L1368.7,447.2Z" fill="#fff" stroke="#000000" stroke-width="1.0" stroke-linejoin="miter"/><path d="M1375,443.9L1381.3,447.2L1381.3,453.8L1375,457.1Z" fill="#000000" stroke="#000000" stroke-width="1.0"/><path d="M1385,457.15L1391.3,460.45L1391.3,467.05L1385,470.35L1378.7,467.05L1378.7,460.45Z" fill="#fff" stroke="#000000" stroke-width="1.0" stroke-linejoin="miter"/><path d="M1385,457.15L1391.3,460.45L1391.3,467.05L1385,470.35Z" fill="#000000" stroke="#000000" stroke-width="1.0"/><path d="M1395.75,462.65L1402.05,465.95L1402.05,472.55L1395.75,475.85L1389.45,472.55L1389.45,465.95Z" fill="#fff" stroke="#000000" stroke-width="1.0" stroke-linejoin="miter"/><path d="M1395.75,462.65L1402.05,465.95L1402.05,472.55L1395.75,475.85Z" fill="#000000" stroke="#000000" stroke-width="1.0"/><path d="M1407.5,458.4L1413.8,461.7L1413.8,468.3L1407.5,471.6L1401.2,468.3L1401.2,461.7Z" fill="#fff" stroke="#000000" stroke-width="1.0" stroke-linejoin="miter"/><path d="M1407.5,458.4L1413.8,461.7L1413.8,468.3L1407.5,471.6Z" fill="#000000" stroke="#000000" stroke-width="1.0"/><path d="M1421.75,445.9L1428.05,449.2L1428.05,455.8L1421.75,459.1L1415.45,455.8L1415.45,449.2Z" fill="#fff" stroke="#000000" stroke-width="1.0" stroke-linejoin="miter"/><path d="M1421.75,445.9L1428.05,449.2L1428.05,455.8L1421.75,459.1Z" fill="#000000" stroke="#000000" stroke-width="1.0"/>
<path d="M1020,494L1072.89,430.6" fill="none" stroke="#00ff2a" stroke-width="2.05"/><path d="M1078.23,432.6L1076.97,497.1M1076.8,514.3L1076.8,523.5M1117.02,498.07L1117.78,492.23M1122.02,475.69L1122.68,474.01M1127.55,457.58L1131.65,437.92M1136.33,421.41L1143.07,402.79M1148.56,386.49L1159.14,352.61M1165.06,336.48L1180.89,299.17M1188.75,283.92L1210,249.33M1220.89,236.25L1245.61,214M1259.88,204.8L1284.62,193.95M1301.06,191.28L1325.19,193.47M1341.07,198.77L1366.88,214.73M1379.69,225.87L1401.01,251.63M1411.32,265.37L1430.78,294.13M1439.98,308.65L1454.12,332.6M1463.87,346.72L1472.33,357.28M1485.6,367.39L1489.6,369.11M1505.28,368.84L1513.72,364.86M1527.31,354.86L1545.44,335.09M1556.67,322.08L1587.08,284.67M1597.39,270.92L1644.61,202.58" fill="none" stroke="#00ff2a" stroke-width="2.05" stroke-linecap="butt"/><path d="M1078.4,417.4L1084.7,420.7L1084.7,427.3L1078.4,430.6L1072.1,427.3L1072.1,420.7Z" fill="#fff" stroke="#00ff2a" stroke-width="1.0" stroke-linejoin="miter"/><path d="M1078.4,417.4L1084.7,420.7L1084.7,427.3L1078.4,430.6Z" fill="#00ff2a" stroke="#00ff2a" stroke-width="1.0"/><path d="M1076.8,499.1L1083.1,502.4L1083.1,509L1076.8,512.3L1070.5,509L1070.5,502.4Z" fill="#fff" stroke="#00ff2a" stroke-width="1.0" stroke-linejoin="miter"/><path d="M1076.8,499.1L1083.1,502.4L1083.1,509L1076.8,512.3Z" fill="#00ff2a" stroke="#00ff2a" stroke-width="1.0"/><path d="M1076.8,525.5L1083.1,528.8L1083.1,535.4L1076.8,538.7L1070.5,535.4L1070.5,528.8Z" fill="#fff" stroke="#00ff2a" stroke-width="1.0" stroke-linejoin="miter"/><path d="M1076.8,525.5L1083.1,528.8L1083.1,535.4L1076.8,538.7Z" fill="#00ff2a" stroke="#00ff2a" stroke-width="1.0"/><path d="M1077.2,534.4L1083.5,537.7L1083.5,544.3L1077.2,547.6L1070.9,544.3L1070.9,537.7Z" fill="#fff" stroke="#00ff2a" stroke-width="1.0" stroke-linejoin="miter"/><path d="M1077.2,534.4L1083.5,537.7L1083.5,544.3L1077.2,547.6Z" fill="#00ff2a" stroke="#00ff2a" stroke-width="1.0"/><path d="M1077.8,541.4L1084.1,544.7L1084.1,551.3L1077.8,554.6L1071.5,551.3L1071.5,544.7Z" fill="#fff" stroke="#00ff2a" stroke-width="1.0" stroke-linejoin="miter"/><path d="M1077.8,541.4L1084.1,544.7L1084.1,551.3L1077.8,554.6Z" fill="#00ff2a" stroke="#00ff2a" stroke-width="1.0"/><path d="M1078.5,547.4L1084.8,550.7L1084.8,557.3L1078.5,560.6L1072.2,557.3L1072.2,550.7Z" fill="#fff" stroke="#00ff2a" stroke-width="1.0" stroke-linejoin="miter"/><path d="M1078.5,547.4L1084.8,550.7L1084.8,557.3L1078.5,560.6Z" fill="#00ff2a" stroke="#00ff2a" stroke-width="1.0"/><path d="M1079.6,552.4L1085.9,555.7L1085.9,562.3L1079.6,565.6L1073.3,562.3L1073.3,555.7Z" fill="#fff" stroke="#00ff2a" stroke-width="1.0" stroke-linejoin="miter"/><path d="M1079.6,552.4L1085.9,555.7L1085.9,562.3L1079.6,565.6Z" fill="#00ff2a" stroke="#00ff2a" stroke-width="1.0"/><path d="M1081.5,556.4L1087.8,559.7L1087.8,566.3L1081.5,569.6L1075.2,566.3L1075.2,559.7Z" fill="#fff" stroke="#00ff2a" stroke-width="1.0" stroke-linejoin="miter"/><path d="M1081.5,556.4L1087.8,559.7L1087.8,566.3L1081.5,569.6Z" fill="#00ff2a" stroke="#00ff2a" stroke-width="1.0"/><path d="M1084.5,559.4L1090.8,562.7L1090.8,569.3L1084.5,572.6L1078.2,569.3L1078.2,562.7Z" fill="#fff" stroke="#00ff2a" stroke-width="1.0" stroke-linejoin="miter"/><path d="M1084.5,559.4L1090.8,562.7L1090.8,569.3L1084.5,572.6Z" fill="#00ff2a" stroke="#00ff2a" stroke-width="1.0"/><path d="M1088,560.9L1094.3,564.2L1094.3,570.8L1088,574.1L1081.7,570.8L1081.7,564.2Z" fill="#fff" stroke="#00ff2a" stroke-width="1.0" stroke-linejoin="miter"/><path d="M1088,560.9L1094.3,564.2L1094.3,570.8L1088,574.1Z" fill="#00ff2a" stroke="#00ff2a" stroke-width="1.0"/><path d="M1091.3,561.1L1097.6,564.4L1097.6,571L1091.3,574.3L1085,571L1085,564.4Z" fill="#fff" stroke="#00ff2a" stroke-width="1.0" stroke-linejoin="miter"/><path d="M1091.3,561.1L1097.6,564.4L1097.6,571L1091.3,574.3Z" fill="#00ff2a" stroke="#00ff2a" stroke-width="1.0"/><path d="M1093.7,559.9L1100,563.2L1100,569.8L1093.7,573.1L1087.4,569.8L1087.4,563.2Z" fill="#fff" stroke="#00ff2a" stroke-width="1.0" stroke-linejoin="miter"/><path d="M1093.7,559.9L1100,563.2L1100,569.8L1093.7,573.1Z" fill="#00ff2a" stroke="#00ff2a" stroke-width="1.0"/><path d="M1095.5,555.7L1101.8,559L1101.8,565.6L1095.5,568.9L1089.2,565.6L1089.2,559Z" fill="#fff" stroke="#00ff2a" stroke-width="1.0" stroke-linejoin="miter"/><path d="M1095.5,555.7L1101.8,559L1101.8,565.6L1095.5,568.9Z" fill="#00ff2a" stroke="#00ff2a" stroke-width="1.0"/><path d="M1097.3,549.7L1103.6,553L1103.6,559.6L1097.3,562.9L1091,559.6L1091,553Z" fill="#fff" stroke="#00ff2a" stroke-width="1.0" stroke-linejoin="miter"/><path d="M1097.3,549.7L1103.6,553L1103.6,559.6L1097.3,562.9Z" fill="#00ff2a" stroke="#00ff2a" stroke-width="1.0"/><path d="M1098.9,543.6L1105.2,546.9L1105.2,553.5L1098.9,556.8L1092.6,553.5L1092.6,546.9Z" fill="#fff" stroke="#00ff2a" stroke-width="1.0" stroke-linejoin="miter"/><path d="M1098.9,543.6L1105.2,546.9L1105.2,553.5L1098.9,556.8Z" fill="#00ff2a" stroke="#00ff2a" stroke-width="1.0"/><path d="M1102.3,531.4L1108.6,534.7L1108.6,541.3L1102.3,544.6L1096,541.3L1096,534.7Z" fill="#fff" stroke="#00ff2a" stroke-width="1.0" stroke-linejoin="miter"/><path d="M1102.3,531.4L1108.6,534.7L1108.6,541.3L1102.3,544.6Z" fill="#00ff2a" stroke="#00ff2a" stroke-width="1.0"/><path d="M1105.8,519.4L1112.1,522.7L1112.1,529.3L1105.8,532.6L1099.5,529.3L1099.5,522.7Z" fill="#fff" stroke="#00ff2a" stroke-width="1.0" stroke-linejoin="miter"/><path d="M1105.8,519.4L1112.1,522.7L1112.1,529.3L1105.8,532.6Z" fill="#00ff2a" stroke="#00ff2a" stroke-width="1.0"/><path d="M1110.5,507.4L1116.8,510.7L1116.8,517.3L1110.5,520.6L1104.2,517.3L1104.2,510.7Z" fill="#fff" stroke="#00ff2a" stroke-width="1.0" stroke-linejoin="miter"/><path d="M1110.5,507.4L1116.8,510.7L1116.8,517.3L1110.5,520.6Z" fill="#00ff2a" stroke="#00ff2a" stroke-width="1.0"/><path d="M1115.9,500L1122.2,503.3L1122.2,509.9L1115.9,513.2L1109.6,509.9L1109.6,503.3Z" fill="#fff" stroke="#00ff2a" stroke-width="1.0" stroke-linejoin="miter"/><path d="M1115.9,500L1122.2,503.3L1122.2,509.9L1115.9,513.2Z" fill="#00ff2a" stroke="#00ff2a" stroke-width="1.0"/><path d="M1118.9,477.1L1125.2,480.4L1125.2,487L1118.9,490.3L1112.6,487L1112.6,480.4Z" fill="#fff" stroke="#00ff2a" stroke-width="1.0" stroke-linejoin="miter"/><path d="M1118.9,477.1L1125.2,480.4L1125.2,487L1118.9,490.3Z" fill="#00ff2a" stroke="#00ff2a" stroke-width="1.0"/><path d="M1125.8,459.4L1132.1,462.7L1132.1,469.3L1125.8,472.6L1119.5,469.3L1119.5,462.7Z" fill="#fff" stroke="#00ff2a" stroke-width="1.0" stroke-linejoin="miter"/><path d="M1125.8,459.4L1132.1,462.7L1132.1,469.3L1125.8,472.6Z" fill="#00ff2a" stroke="#00ff2a" stroke-width="1.0"/><path d="M1133.4,422.9L1139.7,426.2L1139.7,432.8L1133.4,436.1L1127.1,432.8L1127.1,426.2Z" fill="#fff" stroke="#00ff2a" stroke-width="1.0" stroke-linejoin="miter"/><path d="M1133.4,422.9L1139.7,426.2L1139.7,432.8L1133.4,436.1Z" fill="#00ff2a" stroke="#00ff2a" stroke-width="1.0"/><path d="M1146,388.1L1152.3,391.4L1152.3,398L1146,401.3L1139.7,398L1139.7,391.4Z" fill="#fff" stroke="#00ff2a" stroke-width="1.0" stroke-linejoin="miter"/><path d="M1146,388.1L1152.3,391.4L1152.3,398L1146,401.3Z" fill="#00ff2a" stroke="#00ff2a" stroke-width="1.0"/><path d="M1161.7,337.8L1168,341.1L1168,347.7L1161.7,351L1155.4,347.7L1155.4,341.1Z" fill="#fff" stroke="#00ff2a" stroke-width="1.0" stroke-linejoin="miter"/><path d="M1161.7,337.8L1168,341.1L1168,347.7L1161.7,351Z" fill="#00ff2a" stroke="#00ff2a" stroke-width="1.0"/><path d="M1184.25,284.65L1190.55,287.95L1190.55,294.55L1184.25,297.85L1177.95,294.55L1177.95,287.95Z" fill="#fff" stroke="#00ff2a" stroke-width="1.0" stroke-linejoin="miter"/><path d="M1184.25,284.65L1190.55,287.95L1190.55,294.55L1184.25,297.85Z" fill="#00ff2a" stroke="#00ff2a" stroke-width="1.0"/><path d="M1214.5,235.4L1220.8,238.7L1220.8,245.3L1214.5,248.6L1208.2,245.3L1208.2,238.7Z" fill="#fff" stroke="#00ff2a" stroke-width="1.0" stroke-linejoin="miter"/><path d="M1214.5,235.4L1220.8,238.7L1220.8,245.3L1214.5,248.6Z" fill="#00ff2a" stroke="#00ff2a" stroke-width="1.0"/><path d="M1252,201.65L1258.3,204.95L1258.3,211.55L1252,214.85L1245.7,211.55L1245.7,204.95Z" fill="#fff" stroke="#00ff2a" stroke-width="1.0" stroke-linejoin="miter"/><path d="M1252,201.65L1258.3,204.95L1258.3,211.55L1252,214.85Z" fill="#00ff2a" stroke="#00ff2a" stroke-width="1.0"/><path d="M1292.5,183.9L1298.8,187.2L1298.8,193.8L1292.5,197.1L1286.2,193.8L1286.2,187.2Z" fill="#fff" stroke="#00ff2a" stroke-width="1.0" stroke-linejoin="miter"/><path d="M1292.5,183.9L1298.8,187.2L1298.8,193.8L1292.5,197.1Z" fill="#00ff2a" stroke="#00ff2a" stroke-width="1.0"/><path d="M1333.75,187.65L1340.05,190.95L1340.05,197.55L1333.75,200.85L1327.45,197.55L1327.45,190.95Z" fill="#fff" stroke="#00ff2a" stroke-width="1.0" stroke-linejoin="miter"/><path d="M1333.75,187.65L1340.05,190.95L1340.05,197.55L1333.75,200.85Z" fill="#00ff2a" stroke="#00ff2a" stroke-width="1.0"/><path d="M1374.2,212.65L1380.5,215.95L1380.5,222.55L1374.2,225.85L1367.9,222.55L1367.9,215.95Z" fill="#fff" stroke="#00ff2a" stroke-width="1.0" stroke-linejoin="miter"/><path d="M1374.2,212.65L1380.5,215.95L1380.5,222.55L1374.2,225.85Z" fill="#00ff2a" stroke="#00ff2a" stroke-width="1.0"/><path d="M1406.5,251.65L1412.8,254.95L1412.8,261.55L1406.5,264.85L1400.2,261.55L1400.2,254.95Z" fill="#fff" stroke="#00ff2a" stroke-width="1.0" stroke-linejoin="miter"/><path d="M1406.5,251.65L1412.8,254.95L1412.8,261.55L1406.5,264.85Z" fill="#00ff2a" stroke="#00ff2a" stroke-width="1.0"/><path d="M1435.6,294.65L1441.9,297.95L1441.9,304.55L1435.6,307.85L1429.3,304.55L1429.3,297.95Z" fill="#fff" stroke="#00ff2a" stroke-width="1.0" stroke-linejoin="miter"/><path d="M1435.6,294.65L1441.9,297.95L1441.9,304.55L1435.6,307.85Z" fill="#00ff2a" stroke="#00ff2a" stroke-width="1.0"/><path d="M1458.5,333.4L1464.8,336.7L1464.8,343.3L1458.5,346.6L1452.2,343.3L1452.2,336.7Z" fill="#fff" stroke="#00ff2a" stroke-width="1.0" stroke-linejoin="miter"/><path d="M1458.5,333.4L1464.8,336.7L1464.8,343.3L1458.5,346.6Z" fill="#00ff2a" stroke="#00ff2a" stroke-width="1.0"/><path d="M1477.7,357.4L1484,360.7L1484,367.3L1477.7,370.6L1471.4,367.3L1471.4,360.7Z" fill="#fff" stroke="#00ff2a" stroke-width="1.0" stroke-linejoin="miter"/><path d="M1477.7,357.4L1484,360.7L1484,367.3L1477.7,370.6Z" fill="#00ff2a" stroke="#00ff2a" stroke-width="1.0"/><path d="M1497.5,365.9L1503.8,369.2L1503.8,375.8L1497.5,379.1L1491.2,375.8L1491.2,369.2Z" fill="#fff" stroke="#00ff2a" stroke-width="1.0" stroke-linejoin="miter"/><path d="M1497.5,365.9L1503.8,369.2L1503.8,375.8L1497.5,379.1Z" fill="#00ff2a" stroke="#00ff2a" stroke-width="1.0"/><path d="M1521.5,354.6L1527.8,357.9L1527.8,364.5L1521.5,367.8L1515.2,364.5L1515.2,357.9Z" fill="#fff" stroke="#00ff2a" stroke-width="1.0" stroke-linejoin="miter"/><path d="M1521.5,354.6L1527.8,357.9L1527.8,364.5L1521.5,367.8Z" fill="#00ff2a" stroke="#00ff2a" stroke-width="1.0"/><path d="M1551.25,322.15L1557.55,325.45L1557.55,332.05L1551.25,335.35L1544.95,332.05L1544.95,325.45Z" fill="#fff" stroke="#00ff2a" stroke-width="1.0" stroke-linejoin="miter"/><path d="M1551.25,322.15L1557.55,325.45L1557.55,332.05L1551.25,335.35Z" fill="#00ff2a" stroke="#00ff2a" stroke-width="1.0"/><path d="M1592.5,271.4L1598.8,274.7L1598.8,281.3L1592.5,284.6L1586.2,281.3L1586.2,274.7Z" fill="#fff" stroke="#00ff2a" stroke-width="1.0" stroke-linejoin="miter"/><path d="M1592.5,271.4L1598.8,274.7L1598.8,281.3L1592.5,284.6Z" fill="#00ff2a" stroke="#00ff2a" stroke-width="1.0"/><path d="M1649.5,188.9L1655.8,192.2L1655.8,198.8L1649.5,202.1L1643.2,198.8L1643.2,192.2Z" fill="#fff" stroke="#00ff2a" stroke-width="1.0" stroke-linejoin="miter"/><path d="M1649.5,188.9L1655.8,192.2L1655.8,198.8L1649.5,202.1Z" fill="#00ff2a" stroke="#00ff2a" stroke-width="1.0"/>
<path d="M1020,525L1066.09,474.74" fill="none" stroke="#ff0000" stroke-width="2.05"/><path d="M1071.38,476.98L1068.72,520.82M1067.99,538L1067.81,544.9M1093.19,521.55L1094.91,512.45M1100.24,496.26L1102.56,491.44M1109.31,475.64L1111.59,469.56M1117.11,453.28L1123.89,431.12M1130.09,415.13L1136.81,400.97M1146.19,386.75L1153.71,378.25M1165.76,366.01L1175.34,357.29M1189.73,348.41L1197.07,345.59M1213.68,343.02L1222.72,343.58M1239.07,347.79L1247.73,351.91M1261.89,361.35L1270.11,368.75M1281.96,381.14L1289.54,390.36M1300.61,403.52L1306.39,410.23M1317.85,423.05L1319.15,424.45M1359.53,424.89L1367.97,415.61M1378.41,402.02L1394.09,377.73M1403.45,363.3L1430.3,322.2M1439.47,307.66L1483.53,235.34" fill="none" stroke="#ff0000" stroke-width="2.05" stroke-linecap="butt"/><path d="M1071.9,461.8L1078.2,465.1L1078.2,471.7L1071.9,475L1065.6,471.7L1065.6,465.1Z" fill="#fff" stroke="#ff0000" stroke-width="1.0" stroke-linejoin="miter"/><path d="M1071.9,461.8L1078.2,465.1L1078.2,471.7L1071.9,475Z" fill="#ff0000" stroke="#ff0000" stroke-width="1.0"/><path d="M1068.2,522.8L1074.5,526.1L1074.5,532.7L1068.2,536L1061.9,532.7L1061.9,526.1Z" fill="#fff" stroke="#ff0000" stroke-width="1.0" stroke-linejoin="miter"/><path d="M1068.2,522.8L1074.5,526.1L1074.5,532.7L1068.2,536Z" fill="#ff0000" stroke="#ff0000" stroke-width="1.0"/><path d="M1067.6,546.9L1073.9,550.2L1073.9,556.8L1067.6,560.1L1061.3,556.8L1061.3,550.2Z" fill="#fff" stroke="#ff0000" stroke-width="1.0" stroke-linejoin="miter"/><path d="M1067.6,546.9L1073.9,550.2L1073.9,556.8L1067.6,560.1Z" fill="#ff0000" stroke="#ff0000" stroke-width="1.0"/><path d="M1067.8,549.2L1074.1,552.5L1074.1,559.1L1067.8,562.4L1061.5,559.1L1061.5,552.5Z" fill="#fff" stroke="#ff0000" stroke-width="1.0" stroke-linejoin="miter"/><path d="M1067.8,549.2L1074.1,552.5L1074.1,559.1L1067.8,562.4Z" fill="#ff0000" stroke="#ff0000" stroke-width="1.0"/><path d="M1068.1,551.4L1074.4,554.7L1074.4,561.3L1068.1,564.6L1061.8,561.3L1061.8,554.7Z" fill="#fff" stroke="#ff0000" stroke-width="1.0" stroke-linejoin="miter"/><path d="M1068.1,551.4L1074.4,554.7L1074.4,561.3L1068.1,564.6Z" fill="#ff0000" stroke="#ff0000" stroke-width="1.0"/><path d="M1068.5,553.6L1074.8,556.9L1074.8,563.5L1068.5,566.8L1062.2,563.5L1062.2,556.9Z" fill="#fff" stroke="#ff0000" stroke-width="1.0" stroke-linejoin="miter"/><path d="M1068.5,553.6L1074.8,556.9L1074.8,563.5L1068.5,566.8Z" fill="#ff0000" stroke="#ff0000" stroke-width="1.0"/><path d="M1069,555.7L1075.3,559L1075.3,565.6L1069,568.9L1062.7,565.6L1062.7,559Z" fill="#fff" stroke="#ff0000" stroke-width="1.0" stroke-linejoin="miter"/><path d="M1069,555.7L1075.3,559L1075.3,565.6L1069,568.9Z" fill="#ff0000" stroke="#ff0000" stroke-width="1.0"/><path d="M1069.7,557.7L1076,561L1076,567.6L1069.7,570.9L1063.4,567.6L1063.4,561Z" fill="#fff" stroke="#ff0000" stroke-width="1.0" stroke-linejoin="miter"/><path d="M1069.7,557.7L1076,561L1076,567.6L1069.7,570.9Z" fill="#ff0000" stroke="#ff0000" stroke-width="1.0"/><path d="M1070.6,559.6L1076.9,562.9L1076.9,569.5L1070.6,572.8L1064.3,569.5L1064.3,562.9Z" fill="#fff" stroke="#ff0000" stroke-width="1.0" stroke-linejoin="miter"/><path d="M1070.6,559.6L1076.9,562.9L1076.9,569.5L1070.6,572.8Z" fill="#ff0000" stroke="#ff0000" stroke-width="1.0"/><path d="M1071.7,561.4L1078,564.7L1078,571.3L1071.7,574.6L1065.4,571.3L1065.4,564.7Z" fill="#fff" stroke="#ff0000" stroke-width="1.0" stroke-linejoin="miter"/><path d="M1071.7,561.4L1078,564.7L1078,571.3L1071.7,574.6Z" fill="#ff0000" stroke="#ff0000" stroke-width="1.0"/><path d="M1073,563L1079.3,566.3L1079.3,572.9L1073,576.2L1066.7,572.9L1066.7,566.3Z" fill="#fff" stroke="#ff0000" stroke-width="1.0" stroke-linejoin="miter"/><path d="M1073,563L1079.3,566.3L1079.3,572.9L1073,576.2Z" fill="#ff0000" stroke="#ff0000" stroke-width="1.0"/><path d="M1074.3,564.2L1080.6,567.5L1080.6,574.1L1074.3,577.4L1068,574.1L1068,567.5Z" fill="#fff" stroke="#ff0000" stroke-width="1.0" stroke-linejoin="miter"/><path d="M1074.3,564.2L1080.6,567.5L1080.6,574.1L1074.3,577.4Z" fill="#ff0000" stroke="#ff0000" stroke-width="1.0"/><path d="M1075.6,565L1081.9,568.3L1081.9,574.9L1075.6,578.2L1069.3,574.9L1069.3,568.3Z" fill="#fff" stroke="#ff0000" stroke-width="1.0" stroke-linejoin="miter"/><path d="M1075.6,565L1081.9,568.3L1081.9,574.9L1075.6,578.2Z" fill="#ff0000" stroke="#ff0000" stroke-width="1.0"/><path d="M1078,564.4L1084.3,567.7L1084.3,574.3L1078,577.6L1071.7,574.3L1071.7,567.7Z" fill="#fff" stroke="#ff0000" stroke-width="1.0" stroke-linejoin="miter"/><path d="M1078,564.4L1084.3,567.7L1084.3,574.3L1078,577.6Z" fill="#ff0000" stroke="#ff0000" stroke-width="1.0"/><path d="M1079.6,563.2L1085.9,566.5L1085.9,573.1L1079.6,576.4L1073.3,573.1L1073.3,566.5Z" fill="#fff" stroke="#ff0000" stroke-width="1.0" stroke-linejoin="miter"/><path d="M1079.6,563.2L1085.9,566.5L1085.9,573.1L1079.6,576.4Z" fill="#ff0000" stroke="#ff0000" stroke-width="1.0"/><path d="M1081,561.8L1087.3,565.1L1087.3,571.7L1081,575L1074.7,571.7L1074.7,565.1Z" fill="#fff" stroke="#ff0000" stroke-width="1.0" stroke-linejoin="miter"/><path d="M1081,561.8L1087.3,565.1L1087.3,571.7L1081,575Z" fill="#ff0000" stroke="#ff0000" stroke-width="1.0"/><path d="M1082.5,556.3L1088.8,559.6L1088.8,566.2L1082.5,569.5L1076.2,566.2L1076.2,559.6Z" fill="#fff" stroke="#ff0000" stroke-width="1.0" stroke-linejoin="miter"/><path d="M1082.5,556.3L1088.8,559.6L1088.8,566.2L1082.5,569.5Z" fill="#ff0000" stroke="#ff0000" stroke-width="1.0"/><path d="M1084,550.3L1090.3,553.6L1090.3,560.2L1084,563.5L1077.7,560.2L1077.7,553.6Z" fill="#fff" stroke="#ff0000" stroke-width="1.0" stroke-linejoin="miter"/><path d="M1084,550.3L1090.3,553.6L1090.3,560.2L1084,563.5Z" fill="#ff0000" stroke="#ff0000" stroke-width="1.0"/><path d="M1085.8,544.2L1092.1,547.5L1092.1,554.1L1085.8,557.4L1079.5,554.1L1079.5,547.5Z" fill="#fff" stroke="#ff0000" stroke-width="1.0" stroke-linejoin="miter"/><path d="M1085.8,544.2L1092.1,547.5L1092.1,554.1L1085.8,557.4Z" fill="#ff0000" stroke="#ff0000" stroke-width="1.0"/><path d="M1087.9,537.6L1094.2,540.9L1094.2,547.5L1087.9,550.8L1081.6,547.5L1081.6,540.9Z" fill="#fff" stroke="#ff0000" stroke-width="1.0" stroke-linejoin="miter"/><path d="M1087.9,537.6L1094.2,540.9L1094.2,547.5L1087.9,550.8Z" fill="#ff0000" stroke="#ff0000" stroke-width="1.0"/><path d="M1091.6,523.4L1097.9,526.7L1097.9,533.3L1091.6,536.6L1085.3,533.3L1085.3,526.7Z" fill="#fff" stroke="#ff0000" stroke-width="1.0" stroke-linejoin="miter"/><path d="M1091.6,523.4L1097.9,526.7L1097.9,533.3L1091.6,536.6Z" fill="#ff0000" stroke="#ff0000" stroke-width="1.0"/><path d="M1096.5,497.4L1102.8,500.7L1102.8,507.3L1096.5,510.6L1090.2,507.3L1090.2,500.7Z" fill="#fff" stroke="#ff0000" stroke-width="1.0" stroke-linejoin="miter"/><path d="M1096.5,497.4L1102.8,500.7L1102.8,507.3L1096.5,510.6Z" fill="#ff0000" stroke="#ff0000" stroke-width="1.0"/><path d="M1106.3,477.1L1112.6,480.4L1112.6,487L1106.3,490.3L1100,487L1100,480.4Z" fill="#fff" stroke="#ff0000" stroke-width="1.0" stroke-linejoin="miter"/><path d="M1106.3,477.1L1112.6,480.4L1112.6,487L1106.3,490.3Z" fill="#ff0000" stroke="#ff0000" stroke-width="1.0"/><path d="M1114.6,454.9L1120.9,458.2L1120.9,464.8L1114.6,468.1L1108.3,464.8L1108.3,458.2Z" fill="#fff" stroke="#ff0000" stroke-width="1.0" stroke-linejoin="miter"/><path d="M1114.6,454.9L1120.9,458.2L1120.9,464.8L1114.6,468.1Z" fill="#ff0000" stroke="#ff0000" stroke-width="1.0"/><path d="M1126.4,416.3L1132.7,419.6L1132.7,426.2L1126.4,429.5L1120.1,426.2L1120.1,419.6Z" fill="#fff" stroke="#ff0000" stroke-width="1.0" stroke-linejoin="miter"/><path d="M1126.4,416.3L1132.7,419.6L1132.7,426.2L1126.4,429.5Z" fill="#ff0000" stroke="#ff0000" stroke-width="1.0"/><path d="M1140.5,386.6L1146.8,389.9L1146.8,396.5L1140.5,399.8L1134.2,396.5L1134.2,389.9Z" fill="#fff" stroke="#ff0000" stroke-width="1.0" stroke-linejoin="miter"/><path d="M1140.5,386.6L1146.8,389.9L1146.8,396.5L1140.5,399.8Z" fill="#ff0000" stroke="#ff0000" stroke-width="1.0"/><path d="M1159.4,365.2L1165.7,368.5L1165.7,375.1L1159.4,378.4L1153.1,375.1L1153.1,368.5Z" fill="#fff" stroke="#ff0000" stroke-width="1.0" stroke-linejoin="miter"/><path d="M1159.4,365.2L1165.7,368.5L1165.7,375.1L1159.4,378.4Z" fill="#ff0000" stroke="#ff0000" stroke-width="1.0"/><path d="M1181.7,344.9L1188,348.2L1188,354.8L1181.7,358.1L1175.4,354.8L1175.4,348.2Z" fill="#fff" stroke="#ff0000" stroke-width="1.0" stroke-linejoin="miter"/><path d="M1181.7,344.9L1188,348.2L1188,354.8L1181.7,358.1Z" fill="#ff0000" stroke="#ff0000" stroke-width="1.0"/><path d="M1205.1,335.9L1211.4,339.2L1211.4,345.8L1205.1,349.1L1198.8,345.8L1198.8,339.2Z" fill="#fff" stroke="#ff0000" stroke-width="1.0" stroke-linejoin="miter"/><path d="M1205.1,335.9L1211.4,339.2L1211.4,345.8L1205.1,349.1Z" fill="#ff0000" stroke="#ff0000" stroke-width="1.0"/><path d="M1231.3,337.5L1237.6,340.8L1237.6,347.4L1231.3,350.7L1225,347.4L1225,340.8Z" fill="#fff" stroke="#ff0000" stroke-width="1.0" stroke-linejoin="miter"/><path d="M1231.3,337.5L1237.6,340.8L1237.6,347.4L1231.3,350.7Z" fill="#ff0000" stroke="#ff0000" stroke-width="1.0"/><path d="M1255.5,349L1261.8,352.3L1261.8,358.9L1255.5,362.2L1249.2,358.9L1249.2,352.3Z" fill="#fff" stroke="#ff0000" stroke-width="1.0" stroke-linejoin="miter"/><path d="M1255.5,349L1261.8,352.3L1261.8,358.9L1255.5,362.2Z" fill="#ff0000" stroke="#ff0000" stroke-width="1.0"/><path d="M1276.5,367.9L1282.8,371.2L1282.8,377.8L1276.5,381.1L1270.2,377.8L1270.2,371.2Z" fill="#fff" stroke="#ff0000" stroke-width="1.0" stroke-linejoin="miter"/><path d="M1276.5,367.9L1282.8,371.2L1282.8,377.8L1276.5,381.1Z" fill="#ff0000" stroke="#ff0000" stroke-width="1.0"/><path d="M1295,390.4L1301.3,393.7L1301.3,400.3L1295,403.6L1288.7,400.3L1288.7,393.7Z" fill="#fff" stroke="#ff0000" stroke-width="1.0" stroke-linejoin="miter"/><path d="M1295,390.4L1301.3,393.7L1301.3,400.3L1295,403.6Z" fill="#ff0000" stroke="#ff0000" stroke-width="1.0"/><path d="M1312,410.15L1318.3,413.45L1318.3,420.05L1312,423.35L1305.7,420.05L1305.7,413.45Z" fill="#fff" stroke="#ff0000" stroke-width="1.0" stroke-linejoin="miter"/><path d="M1312,410.15L1318.3,413.45L1318.3,420.05L1312,423.35Z" fill="#ff0000" stroke="#ff0000" stroke-width="1.0"/><path d="M1325,424.15L1331.3,427.45L1331.3,434.05L1325,437.35L1318.7,434.05L1318.7,427.45Z" fill="#fff" stroke="#ff0000" stroke-width="1.0" stroke-linejoin="miter"/><path d="M1325,424.15L1331.3,427.45L1331.3,434.05L1325,437.35Z" fill="#ff0000" stroke="#ff0000" stroke-width="1.0"/><path d="M1338.25,430.4L1344.55,433.7L1344.55,440.3L1338.25,443.6L1331.95,440.3L1331.95,433.7Z" fill="#fff" stroke="#ff0000" stroke-width="1.0" stroke-linejoin="miter"/><path d="M1338.25,430.4L1344.55,433.7L1344.55,440.3L1338.25,443.6Z" fill="#ff0000" stroke="#ff0000" stroke-width="1.0"/><path d="M1353.75,424.65L1360.05,427.95L1360.05,434.55L1353.75,437.85L1347.45,434.55L1347.45,427.95Z" fill="#fff" stroke="#ff0000" stroke-width="1.0" stroke-linejoin="miter"/><path d="M1353.75,424.65L1360.05,427.95L1360.05,434.55L1353.75,437.85Z" fill="#ff0000" stroke="#ff0000" stroke-width="1.0"/><path d="M1373.75,402.65L1380.05,405.95L1380.05,412.55L1373.75,415.85L1367.45,412.55L1367.45,405.95Z" fill="#fff" stroke="#ff0000" stroke-width="1.0" stroke-linejoin="miter"/><path d="M1373.75,402.65L1380.05,405.95L1380.05,412.55L1373.75,415.85Z" fill="#ff0000" stroke="#ff0000" stroke-width="1.0"/><path d="M1398.75,363.9L1405.05,367.2L1405.05,373.8L1398.75,377.1L1392.45,373.8L1392.45,367.2Z" fill="#fff" stroke="#ff0000" stroke-width="1.0" stroke-linejoin="miter"/><path d="M1398.75,363.9L1405.05,367.2L1405.05,373.8L1398.75,377.1Z" fill="#ff0000" stroke="#ff0000" stroke-width="1.0"/><path d="M1435,308.4L1441.3,311.7L1441.3,318.3L1435,321.6L1428.7,318.3L1428.7,311.7Z" fill="#fff" stroke="#ff0000" stroke-width="1.0" stroke-linejoin="miter"/><path d="M1435,308.4L1441.3,311.7L1441.3,318.3L1435,321.6Z" fill="#ff0000" stroke="#ff0000" stroke-width="1.0"/><path d="M1488,221.4L1494.3,224.7L1494.3,231.3L1488,234.6L1481.7,231.3L1481.7,224.7Z" fill="#fff" stroke="#ff0000" stroke-width="1.0" stroke-linejoin="miter"/><path d="M1488,221.4L1494.3,224.7L1494.3,231.3L1488,234.6Z" fill="#ff0000" stroke="#ff0000" stroke-width="1.0"/>
<path d="M1020,479L1073.5,359.05" fill="none" stroke="#5577ff" stroke-width="2.05"/><path d="M1077.37,359.79L1080.83,440.61M1083.26,457.55L1087.44,474.55M1158.16,505.11L1160.14,492.69M1164.94,476.32L1166.96,471.68M1172.25,455.4L1175.75,439.5M1180.45,422.98L1187.45,403.02M1193.44,386.9L1203.66,360.9M1210.71,345.24L1225.19,316.91M1234.11,302.26L1251.49,277.99M1262.89,265.24L1283.11,247.01M1297.8,238.99L1317.95,233.51M1334.75,232.57L1356,235.88M1370.43,243.43L1392.17,266.27M1402.99,279.57L1421.01,305.63M1429.65,320.44L1443.25,348.51M1450.16,364.25L1458.84,386.25M1465.7,402.01L1470.8,412.74M1479.43,427.55L1480.07,428.45M1513.79,425.53L1519.96,416.97" fill="none" stroke="#5577ff" stroke-width="2.05" stroke-linecap="butt"/><path d="M1077,344.6L1083.3,347.9L1083.3,354.5L1077,357.8L1070.7,354.5L1070.7,347.9Z" fill="#fff" stroke="#5577ff" stroke-width="1.0" stroke-linejoin="miter"/><path d="M1077,344.6L1083.3,347.9L1083.3,354.5L1077,357.8Z" fill="#5577ff" stroke="#5577ff" stroke-width="1.0"/><path d="M1081.2,442.6L1087.5,445.9L1087.5,452.5L1081.2,455.8L1074.9,452.5L1074.9,445.9Z" fill="#fff" stroke="#5577ff" stroke-width="1.0" stroke-linejoin="miter"/><path d="M1081.2,442.6L1087.5,445.9L1087.5,452.5L1081.2,455.8Z" fill="#5577ff" stroke="#5577ff" stroke-width="1.0"/><path d="M1089.5,476.3L1095.8,479.6L1095.8,486.2L1089.5,489.5L1083.2,486.2L1083.2,479.6Z" fill="#fff" stroke="#5577ff" stroke-width="1.0" stroke-linejoin="miter"/><path d="M1089.5,476.3L1095.8,479.6L1095.8,486.2L1089.5,489.5Z" fill="#5577ff" stroke="#5577ff" stroke-width="1.0"/><path d="M1094.5,482.4L1100.8,485.7L1100.8,492.3L1094.5,495.6L1088.2,492.3L1088.2,485.7Z" fill="#fff" stroke="#5577ff" stroke-width="1.0" stroke-linejoin="miter"/><path d="M1094.5,482.4L1100.8,485.7L1100.8,492.3L1094.5,495.6Z" fill="#5577ff" stroke="#5577ff" stroke-width="1.0"/><path d="M1100,488.6L1106.3,491.9L1106.3,498.5L1100,501.8L1093.7,498.5L1093.7,491.9Z" fill="#fff" stroke="#5577ff" stroke-width="1.0" stroke-linejoin="miter"/><path d="M1100,488.6L1106.3,491.9L1106.3,498.5L1100,501.8Z" fill="#5577ff" stroke="#5577ff" stroke-width="1.0"/><path d="M1106.2,498.2L1112.5,501.5L1112.5,508.1L1106.2,511.4L1099.9,508.1L1099.9,501.5Z" fill="#fff" stroke="#5577ff" stroke-width="1.0" stroke-linejoin="miter"/><path d="M1106.2,498.2L1112.5,501.5L1112.5,508.1L1106.2,511.4Z" fill="#5577ff" stroke="#5577ff" stroke-width="1.0"/><path d="M1111.5,506.1L1117.8,509.4L1117.8,516L1111.5,519.3L1105.2,516L1105.2,509.4Z" fill="#fff" stroke="#5577ff" stroke-width="1.0" stroke-linejoin="miter"/><path d="M1111.5,506.1L1117.8,509.4L1117.8,516L1111.5,519.3Z" fill="#5577ff" stroke="#5577ff" stroke-width="1.0"/><path d="M1118.5,514.9L1124.8,518.2L1124.8,524.8L1118.5,528.1L1112.2,524.8L1112.2,518.2Z" fill="#fff" stroke="#5577ff" stroke-width="1.0" stroke-linejoin="miter"/><path d="M1118.5,514.9L1124.8,518.2L1124.8,524.8L1118.5,528.1Z" fill="#5577ff" stroke="#5577ff" stroke-width="1.0"/><path d="M1122.9,523.69L1129.2,526.99L1129.2,533.59L1122.9,536.89L1116.6,533.59L1116.6,526.99Z" fill="#fff" stroke="#5577ff" stroke-width="1.0" stroke-linejoin="miter"/><path d="M1122.9,523.69L1129.2,526.99L1129.2,533.59L1122.9,536.89Z" fill="#5577ff" stroke="#5577ff" stroke-width="1.0"/><path d="M1126.5,532.06L1132.8,535.36L1132.8,541.96L1126.5,545.26L1120.2,541.96L1120.2,535.36Z" fill="#fff" stroke="#5577ff" stroke-width="1.0" stroke-linejoin="miter"/><path d="M1126.5,532.06L1132.8,535.36L1132.8,541.96L1126.5,545.26Z" fill="#5577ff" stroke="#5577ff" stroke-width="1.0"/><path d="M1130,540.72L1136.3,544.02L1136.3,550.62L1130,553.92L1123.7,550.62L1123.7,544.02Z" fill="#fff" stroke="#5577ff" stroke-width="1.0" stroke-linejoin="miter"/><path d="M1130,540.72L1136.3,544.02L1136.3,550.62L1130,553.92Z" fill="#5577ff" stroke="#5577ff" stroke-width="1.0"/><path d="M1133,548.42L1139.3,551.73L1139.3,558.32L1133,561.62L1126.7,558.32L1126.7,551.73Z" fill="#fff" stroke="#5577ff" stroke-width="1.0" stroke-linejoin="miter"/><path d="M1133,548.42L1139.3,551.73L1139.3,558.32L1133,561.62Z" fill="#5577ff" stroke="#5577ff" stroke-width="1.0"/><path d="M1136.1,554.2L1142.4,557.5L1142.4,564.1L1136.1,567.4L1129.8,564.1L1129.8,557.5Z" fill="#fff" stroke="#5577ff" stroke-width="1.0" stroke-linejoin="miter"/><path d="M1136.1,554.2L1142.4,557.5L1142.4,564.1L1136.1,567.4Z" fill="#5577ff" stroke="#5577ff" stroke-width="1.0"/><path d="M1140.5,547.46L1146.8,550.76L1146.8,557.36L1140.5,560.66L1134.2,557.36L1134.2,550.76Z" fill="#fff" stroke="#5577ff" stroke-width="1.0" stroke-linejoin="miter"/><path d="M1140.5,547.46L1146.8,550.76L1146.8,557.36L1140.5,560.66Z" fill="#5577ff" stroke="#5577ff" stroke-width="1.0"/><path d="M1143.1,540.72L1149.4,544.02L1149.4,550.62L1143.1,553.92L1136.8,550.62L1136.8,544.02Z" fill="#fff" stroke="#5577ff" stroke-width="1.0" stroke-linejoin="miter"/><path d="M1143.1,540.72L1149.4,544.02L1149.4,550.62L1143.1,553.92Z" fill="#5577ff" stroke="#5577ff" stroke-width="1.0"/><path d="M1147.5,530.52L1153.8,533.82L1153.8,540.42L1147.5,543.72L1141.2,540.42L1141.2,533.82Z" fill="#fff" stroke="#5577ff" stroke-width="1.0" stroke-linejoin="miter"/><path d="M1147.5,530.52L1153.8,533.82L1153.8,540.42L1147.5,543.72Z" fill="#5577ff" stroke="#5577ff" stroke-width="1.0"/><path d="M1152.8,515.8L1159.1,519.1L1159.1,525.7L1152.8,529L1146.5,525.7L1146.5,519.1Z" fill="#fff" stroke="#5577ff" stroke-width="1.0" stroke-linejoin="miter"/><path d="M1152.8,515.8L1159.1,519.1L1159.1,525.7L1152.8,529Z" fill="#5577ff" stroke="#5577ff" stroke-width="1.0"/><path d="M1156.8,507L1163.1,510.3L1163.1,516.9L1156.8,520.2L1150.5,516.9L1150.5,510.3Z" fill="#fff" stroke="#5577ff" stroke-width="1.0" stroke-linejoin="miter"/><path d="M1156.8,507L1163.1,510.3L1163.1,516.9L1156.8,520.2Z" fill="#5577ff" stroke="#5577ff" stroke-width="1.0"/><path d="M1161.5,477.6L1167.8,480.9L1167.8,487.5L1161.5,490.8L1155.2,487.5L1155.2,480.9Z" fill="#fff" stroke="#5577ff" stroke-width="1.0" stroke-linejoin="miter"/><path d="M1161.5,477.6L1167.8,480.9L1167.8,487.5L1161.5,490.8Z" fill="#5577ff" stroke="#5577ff" stroke-width="1.0"/><path d="M1170.4,457.2L1176.7,460.5L1176.7,467.1L1170.4,470.4L1164.1,467.1L1164.1,460.5Z" fill="#fff" stroke="#5577ff" stroke-width="1.0" stroke-linejoin="miter"/><path d="M1170.4,457.2L1176.7,460.5L1176.7,467.1L1170.4,470.4Z" fill="#5577ff" stroke="#5577ff" stroke-width="1.0"/><path d="M1177.6,424.5L1183.9,427.8L1183.9,434.4L1177.6,437.7L1171.3,434.4L1171.3,427.8Z" fill="#fff" stroke="#5577ff" stroke-width="1.0" stroke-linejoin="miter"/><path d="M1177.6,424.5L1183.9,427.8L1183.9,434.4L1177.6,437.7Z" fill="#5577ff" stroke="#5577ff" stroke-width="1.0"/><path d="M1190.3,388.3L1196.6,391.6L1196.6,398.2L1190.3,401.5L1184,398.2L1184,391.6Z" fill="#fff" stroke="#5577ff" stroke-width="1.0" stroke-linejoin="miter"/><path d="M1190.3,388.3L1196.6,391.6L1196.6,398.2L1190.3,401.5Z" fill="#5577ff" stroke="#5577ff" stroke-width="1.0"/><path d="M1206.8,346.3L1213.1,349.6L1213.1,356.2L1206.8,359.5L1200.5,356.2L1200.5,349.6Z" fill="#fff" stroke="#5577ff" stroke-width="1.0" stroke-linejoin="miter"/><path d="M1206.8,346.3L1213.1,349.6L1213.1,356.2L1206.8,359.5Z" fill="#5577ff" stroke="#5577ff" stroke-width="1.0"/><path d="M1229.1,302.65L1235.4,305.95L1235.4,312.55L1229.1,315.85L1222.8,312.55L1222.8,305.95Z" fill="#fff" stroke="#5577ff" stroke-width="1.0" stroke-linejoin="miter"/><path d="M1229.1,302.65L1235.4,305.95L1235.4,312.55L1229.1,315.85Z" fill="#5577ff" stroke="#5577ff" stroke-width="1.0"/><path d="M1256.5,264.4L1262.8,267.7L1262.8,274.3L1256.5,277.6L1250.2,274.3L1250.2,267.7Z" fill="#fff" stroke="#5577ff" stroke-width="1.0" stroke-linejoin="miter"/><path d="M1256.5,264.4L1262.8,267.7L1262.8,274.3L1256.5,277.6Z" fill="#5577ff" stroke="#5577ff" stroke-width="1.0"/><path d="M1289.5,234.65L1295.8,237.95L1295.8,244.55L1289.5,247.85L1283.2,244.55L1283.2,237.95Z" fill="#fff" stroke="#5577ff" stroke-width="1.0" stroke-linejoin="miter"/><path d="M1289.5,234.65L1295.8,237.95L1295.8,244.55L1289.5,247.85Z" fill="#5577ff" stroke="#5577ff" stroke-width="1.0"/><path d="M1326.25,224.65L1332.55,227.95L1332.55,234.55L1326.25,237.85L1319.95,234.55L1319.95,227.95Z" fill="#fff" stroke="#5577ff" stroke-width="1.0" stroke-linejoin="miter"/><path d="M1326.25,224.65L1332.55,227.95L1332.55,234.55L1326.25,237.85Z" fill="#5577ff" stroke="#5577ff" stroke-width="1.0"/><path d="M1364.5,230.6L1370.8,233.9L1370.8,240.5L1364.5,243.8L1358.2,240.5L1358.2,233.9Z" fill="#fff" stroke="#5577ff" stroke-width="1.0" stroke-linejoin="miter"/><path d="M1364.5,230.6L1370.8,233.9L1370.8,240.5L1364.5,243.8Z" fill="#5577ff" stroke="#5577ff" stroke-width="1.0"/><path d="M1398.1,265.9L1404.4,269.2L1404.4,275.8L1398.1,279.1L1391.8,275.8L1391.8,269.2Z" fill="#fff" stroke="#5577ff" stroke-width="1.0" stroke-linejoin="miter"/><path d="M1398.1,265.9L1404.4,269.2L1404.4,275.8L1398.1,279.1Z" fill="#5577ff" stroke="#5577ff" stroke-width="1.0"/><path d="M1425.9,306.1L1432.2,309.4L1432.2,316L1425.9,319.3L1419.6,316L1419.6,309.4Z" fill="#fff" stroke="#5577ff" stroke-width="1.0" stroke-linejoin="miter"/><path d="M1425.9,306.1L1432.2,309.4L1432.2,316L1425.9,319.3Z" fill="#5577ff" stroke="#5577ff" stroke-width="1.0"/><path d="M1447,349.65L1453.3,352.95L1453.3,359.55L1447,362.85L1440.7,359.55L1440.7,352.95Z" fill="#fff" stroke="#5577ff" stroke-width="1.0" stroke-linejoin="miter"/><path d="M1447,349.65L1453.3,352.95L1453.3,359.55L1447,362.85Z" fill="#5577ff" stroke="#5577ff" stroke-width="1.0"/><path d="M1462,387.65L1468.3,390.95L1468.3,397.55L1462,400.85L1455.7,397.55L1455.7,390.95Z" fill="#fff" stroke="#5577ff" stroke-width="1.0" stroke-linejoin="miter"/><path d="M1462,387.65L1468.3,390.95L1468.3,397.55L1462,400.85Z" fill="#5577ff" stroke="#5577ff" stroke-width="1.0"/><path d="M1474.5,413.9L1480.8,417.2L1480.8,423.8L1474.5,427.1L1468.2,423.8L1468.2,417.2Z" fill="#fff" stroke="#5577ff" stroke-width="1.0" stroke-linejoin="miter"/><path d="M1474.5,413.9L1480.8,417.2L1480.8,423.8L1474.5,427.1Z" fill="#5577ff" stroke="#5577ff" stroke-width="1.0"/><path d="M1485,428.9L1491.3,432.2L1491.3,438.8L1485,442.1L1478.7,438.8L1478.7,432.2Z" fill="#fff" stroke="#5577ff" stroke-width="1.0" stroke-linejoin="miter"/><path d="M1485,428.9L1491.3,432.2L1491.3,438.8L1485,442.1Z" fill="#5577ff" stroke="#5577ff" stroke-width="1.0"/><path d="M1496.25,432.9L1502.55,436.2L1502.55,442.8L1496.25,446.1L1489.95,442.8L1489.95,436.2Z" fill="#fff" stroke="#5577ff" stroke-width="1.0" stroke-linejoin="miter"/><path d="M1496.25,432.9L1502.55,436.2L1502.55,442.8L1496.25,446.1Z" fill="#5577ff" stroke="#5577ff" stroke-width="1.0"/><path d="M1508.75,425.9L1515.05,429.2L1515.05,435.8L1508.75,439.1L1502.45,435.8L1502.45,429.2Z" fill="#fff" stroke="#5577ff" stroke-width="1.0" stroke-linejoin="miter"/><path d="M1508.75,425.9L1515.05,429.2L1515.05,435.8L1508.75,439.1Z" fill="#5577ff" stroke="#5577ff" stroke-width="1.0"/><path d="M1525,403.4L1531.3,406.7L1531.3,413.3L1525,416.6L1518.7,413.3L1518.7,406.7Z" fill="#fff" stroke="#5577ff" stroke-width="1.0" stroke-linejoin="miter"/><path d="M1525,403.4L1531.3,406.7L1531.3,413.3L1525,416.6Z" fill="#5577ff" stroke="#5577ff" stroke-width="1.0"/>
<path d="M1020,481L1077.91,373.87" fill="none" stroke="#9a4dff" stroke-width="2.05"/><path d="M1082.09,374.9L1082.91,455.1M1083.95,472.25L1085.95,490.15M1139.16,505.99L1140.14,499.31M1144.03,482.61L1146.12,476.09M1152.64,460.23L1156.81,451.97M1162.27,435.84L1164.73,422.56M1168.4,405.76L1176.2,374.84M1180.81,358.27L1191.89,321.98M1197.34,305.67L1215.56,255.58M1222.08,239.68L1246.42,186.57M1254.74,171.58L1287.76,121.67M1298.84,108.69L1336.16,74.56M1350.7,66.17L1389.05,54.08M1405.78,52.58L1444.22,57.42M1460.27,62.67L1495.23,82.08M1508.85,92.31L1543.15,126.44M1554.36,139.42L1582.89,178.08M1592.72,192.19L1613.78,224.31M1623.91,238.19L1639.59,257.56M1653.25,266.68L1664.75,270.07M1680.39,268.1L1695.86,258.9M1708.8,247.93L1736.95,214.57M1747.01,200.67L1786.74,136.08" fill="none" stroke="#9a4dff" stroke-width="2.05" stroke-linecap="butt"/><path d="M1082,359.7L1088.3,363L1088.3,369.6L1082,372.9L1075.7,369.6L1075.7,363Z" fill="#fff" stroke="#9a4dff" stroke-width="1.0" stroke-linejoin="miter"/><path d="M1082,359.7L1088.3,363L1088.3,369.6L1082,372.9Z" fill="#9a4dff" stroke="#9a4dff" stroke-width="1.0"/><path d="M1083,457.1L1089.3,460.4L1089.3,467L1083,470.3L1076.7,467L1076.7,460.4Z" fill="#fff" stroke="#9a4dff" stroke-width="1.0" stroke-linejoin="miter"/><path d="M1083,457.1L1089.3,460.4L1089.3,467L1083,470.3Z" fill="#9a4dff" stroke="#9a4dff" stroke-width="1.0"/><path d="M1086.9,492.1L1093.2,495.4L1093.2,502L1086.9,505.3L1080.6,502L1080.6,495.4Z" fill="#fff" stroke="#9a4dff" stroke-width="1.0" stroke-linejoin="miter"/><path d="M1086.9,492.1L1093.2,495.4L1093.2,502L1086.9,505.3Z" fill="#9a4dff" stroke="#9a4dff" stroke-width="1.0"/><path d="M1089.5,506.1L1095.8,509.4L1095.8,516L1089.5,519.3L1083.2,516L1083.2,509.4Z" fill="#fff" stroke="#9a4dff" stroke-width="1.0" stroke-linejoin="miter"/><path d="M1089.5,506.1L1095.8,509.4L1095.8,516L1089.5,519.3Z" fill="#9a4dff" stroke="#9a4dff" stroke-width="1.0"/><path d="M1094.8,510.4L1101.1,513.7L1101.1,520.3L1094.8,523.6L1088.5,520.3L1088.5,513.7Z" fill="#fff" stroke="#9a4dff" stroke-width="1.0" stroke-linejoin="miter"/><path d="M1094.8,510.4L1101.1,513.7L1101.1,520.3L1094.8,523.6Z" fill="#9a4dff" stroke="#9a4dff" stroke-width="1.0"/><path d="M1100,519.4L1106.3,522.7L1106.3,529.3L1100,532.6L1093.7,529.3L1093.7,522.7Z" fill="#fff" stroke="#9a4dff" stroke-width="1.0" stroke-linejoin="miter"/><path d="M1100,519.4L1106.3,522.7L1106.3,529.3L1100,532.6Z" fill="#9a4dff" stroke="#9a4dff" stroke-width="1.0"/><path d="M1103.6,530.8L1109.9,534.1L1109.9,540.7L1103.6,544L1097.3,540.7L1097.3,534.1Z" fill="#fff" stroke="#9a4dff" stroke-width="1.0" stroke-linejoin="miter"/><path d="M1103.6,530.8L1109.9,534.1L1109.9,540.7L1103.6,544Z" fill="#9a4dff" stroke="#9a4dff" stroke-width="1.0"/><path d="M1109.7,537.8L1116,541.1L1116,547.7L1109.7,551L1103.4,547.7L1103.4,541.1Z" fill="#fff" stroke="#9a4dff" stroke-width="1.0" stroke-linejoin="miter"/><path d="M1109.7,537.8L1116,541.1L1116,547.7L1109.7,551Z" fill="#9a4dff" stroke="#9a4dff" stroke-width="1.0"/><path d="M1113,544.4L1119.3,547.7L1119.3,554.3L1113,557.6L1106.7,554.3L1106.7,547.7Z" fill="#fff" stroke="#9a4dff" stroke-width="1.0" stroke-linejoin="miter"/><path d="M1113,544.4L1119.3,547.7L1119.3,554.3L1113,557.6Z" fill="#9a4dff" stroke="#9a4dff" stroke-width="1.0"/><path d="M1116,550.4L1122.3,553.7L1122.3,560.3L1116,563.6L1109.7,560.3L1109.7,553.7Z" fill="#fff" stroke="#9a4dff" stroke-width="1.0" stroke-linejoin="miter"/><path d="M1116,550.4L1122.3,553.7L1122.3,560.3L1116,563.6Z" fill="#9a4dff" stroke="#9a4dff" stroke-width="1.0"/><path d="M1119.4,554.5L1125.7,557.8L1125.7,564.4L1119.4,567.7L1113.1,564.4L1113.1,557.8Z" fill="#fff" stroke="#9a4dff" stroke-width="1.0" stroke-linejoin="miter"/><path d="M1119.4,554.5L1125.7,557.8L1125.7,564.4L1119.4,567.7Z" fill="#9a4dff" stroke="#9a4dff" stroke-width="1.0"/><path d="M1123,549.4L1129.3,552.7L1129.3,559.3L1123,562.6L1116.7,559.3L1116.7,552.7Z" fill="#fff" stroke="#9a4dff" stroke-width="1.0" stroke-linejoin="miter"/><path d="M1123,549.4L1129.3,552.7L1129.3,559.3L1123,562.6Z" fill="#9a4dff" stroke="#9a4dff" stroke-width="1.0"/><path d="M1126,543.4L1132.3,546.7L1132.3,553.3L1126,556.6L1119.7,553.3L1119.7,546.7Z" fill="#fff" stroke="#9a4dff" stroke-width="1.0" stroke-linejoin="miter"/><path d="M1126,543.4L1132.3,546.7L1132.3,553.3L1126,556.6Z" fill="#9a4dff" stroke="#9a4dff" stroke-width="1.0"/><path d="M1129,536L1135.3,539.3L1135.3,545.9L1129,549.2L1122.7,545.9L1122.7,539.3Z" fill="#fff" stroke="#9a4dff" stroke-width="1.0" stroke-linejoin="miter"/><path d="M1129,536L1135.3,539.3L1135.3,545.9L1129,549.2Z" fill="#9a4dff" stroke="#9a4dff" stroke-width="1.0"/><path d="M1133.5,520.2L1139.8,523.5L1139.8,530.1L1133.5,533.4L1127.2,530.1L1127.2,523.5Z" fill="#fff" stroke="#9a4dff" stroke-width="1.0" stroke-linejoin="miter"/><path d="M1133.5,520.2L1139.8,523.5L1139.8,530.1L1133.5,533.4Z" fill="#9a4dff" stroke="#9a4dff" stroke-width="1.0"/><path d="M1137.9,507.9L1144.2,511.2L1144.2,517.8L1137.9,521.1L1131.6,517.8L1131.6,511.2Z" fill="#fff" stroke="#9a4dff" stroke-width="1.0" stroke-linejoin="miter"/><path d="M1137.9,507.9L1144.2,511.2L1144.2,517.8L1137.9,521.1Z" fill="#9a4dff" stroke="#9a4dff" stroke-width="1.0"/><path d="M1141.4,484.2L1147.7,487.5L1147.7,494.1L1141.4,497.4L1135.1,494.1L1135.1,487.5Z" fill="#fff" stroke="#9a4dff" stroke-width="1.0" stroke-linejoin="miter"/><path d="M1141.4,484.2L1147.7,487.5L1147.7,494.1L1141.4,497.4Z" fill="#9a4dff" stroke="#9a4dff" stroke-width="1.0"/><path d="M1148.75,461.3L1155.05,464.6L1155.05,471.2L1148.75,474.5L1142.45,471.2L1142.45,464.6Z" fill="#fff" stroke="#9a4dff" stroke-width="1.0" stroke-linejoin="miter"/><path d="M1148.75,461.3L1155.05,464.6L1155.05,471.2L1148.75,474.5Z" fill="#9a4dff" stroke="#9a4dff" stroke-width="1.0"/><path d="M1160.7,437.7L1167,441L1167,447.6L1160.7,450.9L1154.4,447.6L1154.4,441Z" fill="#fff" stroke="#9a4dff" stroke-width="1.0" stroke-linejoin="miter"/><path d="M1160.7,437.7L1167,441L1167,447.6L1160.7,450.9Z" fill="#9a4dff" stroke="#9a4dff" stroke-width="1.0"/><path d="M1166.3,407.5L1172.6,410.8L1172.6,417.4L1166.3,420.7L1160,417.4L1160,410.8Z" fill="#fff" stroke="#9a4dff" stroke-width="1.0" stroke-linejoin="miter"/><path d="M1166.3,407.5L1172.6,410.8L1172.6,417.4L1166.3,420.7Z" fill="#9a4dff" stroke="#9a4dff" stroke-width="1.0"/><path d="M1178.3,359.9L1184.6,363.2L1184.6,369.8L1178.3,373.1L1172,369.8L1172,363.2Z" fill="#fff" stroke="#9a4dff" stroke-width="1.0" stroke-linejoin="miter"/><path d="M1178.3,359.9L1184.6,363.2L1184.6,369.8L1178.3,373.1Z" fill="#9a4dff" stroke="#9a4dff" stroke-width="1.0"/><path d="M1194.4,307.15L1200.7,310.45L1200.7,317.05L1194.4,320.35L1188.1,317.05L1188.1,310.45Z" fill="#fff" stroke="#9a4dff" stroke-width="1.0" stroke-linejoin="miter"/><path d="M1194.4,307.15L1200.7,310.45L1200.7,317.05L1194.4,320.35Z" fill="#9a4dff" stroke="#9a4dff" stroke-width="1.0"/><path d="M1218.5,240.9L1224.8,244.2L1224.8,250.8L1218.5,254.1L1212.2,250.8L1212.2,244.2Z" fill="#fff" stroke="#9a4dff" stroke-width="1.0" stroke-linejoin="miter"/><path d="M1218.5,240.9L1224.8,244.2L1224.8,250.8L1218.5,254.1Z" fill="#9a4dff" stroke="#9a4dff" stroke-width="1.0"/><path d="M1250,172.15L1256.3,175.45L1256.3,182.05L1250,185.35L1243.7,182.05L1243.7,175.45Z" fill="#fff" stroke="#9a4dff" stroke-width="1.0" stroke-linejoin="miter"/><path d="M1250,172.15L1256.3,175.45L1256.3,182.05L1250,185.35Z" fill="#9a4dff" stroke="#9a4dff" stroke-width="1.0"/><path d="M1292.5,107.9L1298.8,111.2L1298.8,117.8L1292.5,121.1L1286.2,117.8L1286.2,111.2Z" fill="#fff" stroke="#9a4dff" stroke-width="1.0" stroke-linejoin="miter"/><path d="M1292.5,107.9L1298.8,111.2L1298.8,117.8L1292.5,121.1Z" fill="#9a4dff" stroke="#9a4dff" stroke-width="1.0"/><path d="M1342.5,62.15L1348.8,65.45L1348.8,72.05L1342.5,75.35L1336.2,72.05L1336.2,65.45Z" fill="#fff" stroke="#9a4dff" stroke-width="1.0" stroke-linejoin="miter"/><path d="M1342.5,62.15L1348.8,65.45L1348.8,72.05L1342.5,75.35Z" fill="#9a4dff" stroke="#9a4dff" stroke-width="1.0"/><path d="M1397.25,44.9L1403.55,48.2L1403.55,54.8L1397.25,58.1L1390.95,54.8L1390.95,48.2Z" fill="#fff" stroke="#9a4dff" stroke-width="1.0" stroke-linejoin="miter"/><path d="M1397.25,44.9L1403.55,48.2L1403.55,54.8L1397.25,58.1Z" fill="#9a4dff" stroke="#9a4dff" stroke-width="1.0"/><path d="M1452.75,51.9L1459.05,55.2L1459.05,61.8L1452.75,65.1L1446.45,61.8L1446.45,55.2Z" fill="#fff" stroke="#9a4dff" stroke-width="1.0" stroke-linejoin="miter"/><path d="M1452.75,51.9L1459.05,55.2L1459.05,61.8L1452.75,65.1Z" fill="#9a4dff" stroke="#9a4dff" stroke-width="1.0"/><path d="M1502.75,79.65L1509.05,82.95L1509.05,89.55L1502.75,92.85L1496.45,89.55L1496.45,82.95Z" fill="#fff" stroke="#9a4dff" stroke-width="1.0" stroke-linejoin="miter"/><path d="M1502.75,79.65L1509.05,82.95L1509.05,89.55L1502.75,92.85Z" fill="#9a4dff" stroke="#9a4dff" stroke-width="1.0"/><path d="M1549.25,125.9L1555.55,129.2L1555.55,135.8L1549.25,139.1L1542.95,135.8L1542.95,129.2Z" fill="#fff" stroke="#9a4dff" stroke-width="1.0" stroke-linejoin="miter"/><path d="M1549.25,125.9L1555.55,129.2L1555.55,135.8L1549.25,139.1Z" fill="#9a4dff" stroke="#9a4dff" stroke-width="1.0"/><path d="M1588,178.4L1594.3,181.7L1594.3,188.3L1588,191.6L1581.7,188.3L1581.7,181.7Z" fill="#fff" stroke="#9a4dff" stroke-width="1.0" stroke-linejoin="miter"/><path d="M1588,178.4L1594.3,181.7L1594.3,188.3L1588,191.6Z" fill="#9a4dff" stroke="#9a4dff" stroke-width="1.0"/><path d="M1618.5,224.9L1624.8,228.2L1624.8,234.8L1618.5,238.1L1612.2,234.8L1612.2,228.2Z" fill="#fff" stroke="#9a4dff" stroke-width="1.0" stroke-linejoin="miter"/><path d="M1618.5,224.9L1624.8,228.2L1624.8,234.8L1618.5,238.1Z" fill="#9a4dff" stroke="#9a4dff" stroke-width="1.0"/><path d="M1645,257.65L1651.3,260.95L1651.3,267.55L1645,270.85L1638.7,267.55L1638.7,260.95Z" fill="#fff" stroke="#9a4dff" stroke-width="1.0" stroke-linejoin="miter"/><path d="M1645,257.65L1651.3,260.95L1651.3,267.55L1645,270.85Z" fill="#9a4dff" stroke="#9a4dff" stroke-width="1.0"/><path d="M1673,265.9L1679.3,269.2L1679.3,275.8L1673,279.1L1666.7,275.8L1666.7,269.2Z" fill="#fff" stroke="#9a4dff" stroke-width="1.0" stroke-linejoin="miter"/><path d="M1673,265.9L1679.3,269.2L1679.3,275.8L1673,279.1Z" fill="#9a4dff" stroke="#9a4dff" stroke-width="1.0"/><path d="M1703.25,247.9L1709.55,251.2L1709.55,257.8L1703.25,261.1L1696.95,257.8L1696.95,251.2Z" fill="#fff" stroke="#9a4dff" stroke-width="1.0" stroke-linejoin="miter"/><path d="M1703.25,247.9L1709.55,251.2L1709.55,257.8L1703.25,261.1Z" fill="#9a4dff" stroke="#9a4dff" stroke-width="1.0"/><path d="M1742.5,201.4L1748.8,204.7L1748.8,211.3L1742.5,214.6L1736.2,211.3L1736.2,204.7Z" fill="#fff" stroke="#9a4dff" stroke-width="1.0" stroke-linejoin="miter"/><path d="M1742.5,201.4L1748.8,204.7L1748.8,211.3L1742.5,214.6Z" fill="#9a4dff" stroke="#9a4dff" stroke-width="1.0"/><path d="M1791.25,122.15L1797.55,125.45L1797.55,132.05L1791.25,135.35L1784.95,132.05L1784.95,125.45Z" fill="#fff" stroke="#9a4dff" stroke-width="1.0" stroke-linejoin="miter"/><path d="M1791.25,122.15L1797.55,125.45L1797.55,132.05L1791.25,135.35Z" fill="#9a4dff" stroke="#9a4dff" stroke-width="1.0"/>
</g>
<rect x="1038.8" y="18.0" width="768.8" height="566.3" fill="none" stroke="#000" stroke-width="4.2"/>
<path d="M1038.7,584.3V595.0M1114.06,584.3V589.7M1189.42,584.3V595.0M1264.78,584.3V589.7M1340.14,584.3V595.0M1415.5,584.3V589.7M1490.86,584.3V595.0M1566.22,584.3V589.7M1641.58,584.3V595.0M1716.94,584.3V589.7M1792.3,584.3V595.0" stroke="#000" stroke-width="4" fill="none"/>
<text transform="translate(1031.64,622.80) scale(1.0973,1)" font-family='"Liberation Sans", Arial, sans-serif' font-weight="bold" font-size="24.17" fill="#000" >0</text>
<text transform="translate(1167.67,622.80) scale(1.0973,1)" font-family='"Liberation Sans", Arial, sans-serif' font-weight="bold" font-size="24.17" fill="#000" >200</text>
<text transform="translate(1318.66,622.80) scale(1.0973,1)" font-family='"Liberation Sans", Arial, sans-serif' font-weight="bold" font-size="24.17" fill="#000" >400</text>
<text transform="translate(1469.08,622.80) scale(1.0973,1)" font-family='"Liberation Sans", Arial, sans-serif' font-weight="bold" font-size="24.17" fill="#000" >600</text>
<text transform="translate(1619.87,622.80) scale(1.0973,1)" font-family='"Liberation Sans", Arial, sans-serif' font-weight="bold" font-size="24.17" fill="#000" >800</text>
<text transform="translate(1762.83,622.80) scale(1.0973,1)" font-family='"Liberation Sans", Arial, sans-serif' font-weight="bold" font-size="24.17" fill="#000" >1000</text>
<text transform="translate(1011.18,592.20) scale(1.0341,1)" font-family='"Liberation Sans", Arial, sans-serif' font-weight="bold" font-size="25.02" fill="#000" >0</text>
<text transform="translate(996.82,478.94) scale(1.0341,1)" font-family='"Liberation Sans", Arial, sans-serif' font-weight="bold" font-size="25.02" fill="#000" >50</text>
<text transform="translate(982.39,365.68) scale(1.0341,1)" font-family='"Liberation Sans", Arial, sans-serif' font-weight="bold" font-size="25.02" fill="#000" >100</text>
<text transform="translate(982.39,252.42) scale(1.0341,1)" font-family='"Liberation Sans", Arial, sans-serif' font-weight="bold" font-size="25.02" fill="#000" >150</text>
<text transform="translate(982.39,139.16) scale(1.0341,1)" font-family='"Liberation Sans", Arial, sans-serif' font-weight="bold" font-size="25.02" fill="#000" >200</text>
<text transform="translate(982.39,25.90) scale(1.0341,1)" font-family='"Liberation Sans", Arial, sans-serif' font-weight="bold" font-size="25.02" fill="#000" >250</text>
<text transform="translate(1383.12,676.76) scale(1.0720,1)" font-family='"Liberation Sans", Arial, sans-serif' font-weight="bold" font-size="30.56" fill="#000" >Z' (Ω)</text>
<text transform="translate(946.25,365.87) rotate(-90) scale(0.9098,1)" font-family='"Liberation Sans", Arial, sans-serif' font-weight="bold" font-size="32.06" fill="#000" >-Z'' (Ω)</text>
<text transform="translate(917.83,33.85) scale(1.0282,1)" font-family='"Liberation Sans", Arial, sans-serif' font-weight="bold" font-size="46.01" fill="#000" >(b)</text>
<path d="M1568,433.1H1588.6M1603,433.1H1623.8" stroke="#000000" stroke-width="1.8" fill="none"/>
<path d="M1595.8,426.4L1602.2,429.75L1602.2,436.45L1595.8,439.8L1589.4,436.45L1589.4,429.75Z" fill="#fff" stroke="#000000" stroke-width="1.1" stroke-linejoin="miter"/><path d="M1595.8,426.4L1602.2,429.75L1602.2,436.45L1595.8,439.8Z" fill="#000000" stroke="#000000" stroke-width="1.1"/>
<text transform="translate(1628.14,440.30) scale(1.1200,1)" font-family='"Liberation Sans", Arial, sans-serif' font-weight="bold" font-size="24.60" fill="#000" >Regular-PEO</text>
<path d="M1568,463.4H1588.6M1603,463.4H1623.8" stroke="#ff0000" stroke-width="1.8" fill="none"/>
<path d="M1595.8,456.7L1602.2,460.05L1602.2,466.75L1595.8,470.1L1589.4,466.75L1589.4,460.05Z" fill="#fff" stroke="#ff0000" stroke-width="1.1" stroke-linejoin="miter"/><path d="M1595.8,456.7L1602.2,460.05L1602.2,466.75L1595.8,470.1Z" fill="#ff0000" stroke="#ff0000" stroke-width="1.1"/>
<text transform="translate(1622.63,471.10) scale(1.1179,1)" font-family='"Liberation Sans", Arial, sans-serif' font-weight="bold" font-size="24.60" fill="#000" >7wt.%PPG</text>
<path d="M1568,495.7H1588.6M1603,495.7H1623.8" stroke="#5577ff" stroke-width="1.8" fill="none"/>
<path d="M1595.8,489L1602.2,492.35L1602.2,499.05L1595.8,502.4L1589.4,499.05L1589.4,492.35Z" fill="#fff" stroke="#5577ff" stroke-width="1.1" stroke-linejoin="miter"/><path d="M1595.8,489L1602.2,492.35L1602.2,499.05L1595.8,502.4Z" fill="#5577ff" stroke="#5577ff" stroke-width="1.1"/>
<text transform="translate(1630.59,502.80) scale(1.1105,1)" font-family='"Liberation Sans", Arial, sans-serif' font-weight="bold" font-size="24.60" fill="#000" >10wt.%PPG</text>
<path d="M1568,527.2H1588.6M1603,527.2H1623.8" stroke="#00ff2a" stroke-width="1.8" fill="none"/>
<path d="M1595.8,520.5L1602.2,523.85L1602.2,530.55L1595.8,533.9L1589.4,530.55L1589.4,523.85Z" fill="#fff" stroke="#00ff2a" stroke-width="1.1" stroke-linejoin="miter"/><path d="M1595.8,520.5L1602.2,523.85L1602.2,530.55L1595.8,533.9Z" fill="#00ff2a" stroke="#00ff2a" stroke-width="1.1"/>
<text transform="translate(1622.89,534.60) scale(1.1105,1)" font-family='"Liberation Sans", Arial, sans-serif' font-weight="bold" font-size="24.60" fill="#000" >13wt.%PPG</text>
<path d="M1568,559.2H1588.6M1603,559.2H1623.8" stroke="#9a4dff" stroke-width="1.8" fill="none"/>
<path d="M1595.8,552.5L1602.2,555.85L1602.2,562.55L1595.8,565.9L1589.4,562.55L1589.4,555.85Z" fill="#fff" stroke="#9a4dff" stroke-width="1.1" stroke-linejoin="miter"/><path d="M1595.8,552.5L1602.2,555.85L1602.2,562.55L1595.8,565.9Z" fill="#9a4dff" stroke="#9a4dff" stroke-width="1.1"/>
<text transform="translate(1630.59,566.20) scale(1.1105,1)" font-family='"Liberation Sans", Arial, sans-serif' font-weight="bold" font-size="24.60" fill="#000" >15wt.%PPG</text>
<path d="M193.75,845.0L784.0,1181.0" stroke="#ff0d0d" stroke-width="3.7" fill="none" stroke-dasharray="0.1 8.7" stroke-linecap="round"/>
<path d="M193.75,899.5L784.0,1201.0" stroke="#00b0f0" stroke-width="3.7" fill="none" stroke-dasharray="0.1 8.7" stroke-linecap="round"/>
<path d="M193.75,919.5L784.0,1227.0" stroke="#00b050" stroke-width="3.7" fill="none" stroke-dasharray="0.1 8.7" stroke-linecap="round"/>
<circle cx="193.75" cy="884.5" r="6.4" fill="none" stroke="#00b0f0" stroke-width="3.6"/>
<circle cx="265" cy="933" r="6.4" fill="none" stroke="#00b0f0" stroke-width="3.6"/>
<circle cx="338.75" cy="977" r="6.4" fill="none" stroke="#00b0f0" stroke-width="3.6"/>
<circle cx="419" cy="1038" r="6.4" fill="none" stroke="#00b0f0" stroke-width="3.6"/>
<circle cx="501.75" cy="1072.5" r="6.4" fill="none" stroke="#00b0f0" stroke-width="3.6"/>
<circle cx="590.25" cy="1100" r="6.4" fill="none" stroke="#00b0f0" stroke-width="3.6"/>
<circle cx="683" cy="1155" r="6.4" fill="none" stroke="#00b0f0" stroke-width="3.6"/>
<circle cx="784" cy="1198.25" r="6.4" fill="none" stroke="#00b0f0" stroke-width="3.6"/>
<circle cx="193.75" cy="843" r="6.4" fill="none" stroke="#ff0d0d" stroke-width="3.6"/>
<circle cx="265" cy="888.25" r="6.4" fill="none" stroke="#ff0d0d" stroke-width="3.6"/>
<circle cx="338.75" cy="933" r="6.4" fill="none" stroke="#ff0d0d" stroke-width="3.6"/>
<circle cx="419" cy="977" r="6.4" fill="none" stroke="#ff0d0d" stroke-width="3.6"/>
<circle cx="501.75" cy="1026.75" r="6.4" fill="none" stroke="#ff0d0d" stroke-width="3.6"/>
<circle cx="590.25" cy="1073.25" r="6.4" fill="none" stroke="#ff0d0d" stroke-width="3.6"/>
<circle cx="683" cy="1128.25" r="6.4" fill="none" stroke="#ff0d0d" stroke-width="3.6"/>
<circle cx="784" cy="1180.25" r="6.4" fill="none" stroke="#ff0d0d" stroke-width="3.6"/>
<circle cx="193.75" cy="917" r="6.4" fill="none" stroke="#00b050" stroke-width="3.6"/>
<circle cx="265" cy="952" r="6.4" fill="none" stroke="#00b050" stroke-width="3.6"/>
<circle cx="338.75" cy="995" r="6.4" fill="none" stroke="#00b050" stroke-width="3.6"/>
<circle cx="419" cy="1020" r="6.4" fill="none" stroke="#00b050" stroke-width="3.6"/>
<circle cx="501.75" cy="1072.5" r="6.4" fill="none" stroke="#00b050" stroke-width="3.6"/>
<circle cx="590.25" cy="1122.5" r="6.4" fill="none" stroke="#00b050" stroke-width="3.6"/>
<circle cx="683" cy="1171.5" r="6.4" fill="none" stroke="#00b050" stroke-width="3.6"/>
<circle cx="784" cy="1229" r="6.4" fill="none" stroke="#00b050" stroke-width="3.6"/>
<rect x="142.5" y="767.2" width="7.0" height="535.3" fill="#000"/><rect x="142.5" y="767.2" width="757.5" height="5.6" fill="#000"/><rect x="893.8" y="767.2" width="6.2" height="535.3" fill="#000"/><rect x="142.5" y="1296.8" width="757.5" height="5.7" fill="#000"/>
<path d="M135,769.7H146.0M135,946.8H146.0M135,1123.9H146.0M135,1301H146.0" stroke="#000" stroke-width="5" fill="none"/>
<path d="M145.75,1299.8V1309.5M361.25,1299.8V1309.5M575.6,1299.8V1309.5M789.5,1299.8V1309.5" stroke="#000" stroke-width="5.5" fill="none"/>
<text transform="translate(58.15,780.00) scale(1.2876,1)" font-family='"Liberation Sans", Arial, sans-serif' font-weight="bold" font-size="26.15" fill="#000" >-3.0</text>
<text transform="translate(58.15,957.10) scale(1.2876,1)" font-family='"Liberation Sans", Arial, sans-serif' font-weight="bold" font-size="26.15" fill="#000" >-4.0</text>
<text transform="translate(58.15,1134.20) scale(1.2876,1)" font-family='"Liberation Sans", Arial, sans-serif' font-weight="bold" font-size="26.15" fill="#000" >-5.0</text>
<text transform="translate(58.15,1311.30) scale(1.2876,1)" font-family='"Liberation Sans", Arial, sans-serif' font-weight="bold" font-size="26.15" fill="#000" >-6.0</text>
<text transform="translate(126.31,1348.50) scale(1.0999,1)" font-family='"Liberation Sans", Arial, sans-serif' font-weight="bold" font-size="30.82" fill="#000" >2.7</text>
<text transform="translate(347.44,1348.50) scale(1.0999,1)" font-family='"Liberation Sans", Arial, sans-serif' font-weight="bold" font-size="30.82" fill="#000" >2.9</text>
<text transform="translate(568.62,1348.50) scale(1.0999,1)" font-family='"Liberation Sans", Arial, sans-serif' font-weight="bold" font-size="30.82" fill="#000" >3.1</text>
<text transform="translate(790.75,1348.50) scale(1.0999,1)" font-family='"Liberation Sans", Arial, sans-serif' font-weight="bold" font-size="30.82" fill="#000" >3.3</text>
<text transform="translate(45.37,1124.53) rotate(-90) scale(0.8916,1)" font-family='"Liberation Sans", Arial, sans-serif' font-weight="bold" font-size="37.33" fill="#000" >log σ (S/cm)</text>
<text transform="translate(-2.34,790.21) scale(0.9912,1)" font-family='"Liberation Sans", Arial, sans-serif' font-weight="bold" font-size="47.18" fill="#000" >(c)</text>
<circle cx="643.8" cy="816.25" r="7.2" fill="none" stroke="#00b0f0" stroke-width="3.5"/>
<circle cx="643.8" cy="872.5" r="7.2" fill="none" stroke="#ff0d0d" stroke-width="3.5"/>
<circle cx="643.8" cy="928.0" r="7.2" fill="none" stroke="#00b050" stroke-width="3.5"/>
<text transform="translate(657.98,823.87) scale(1.0953,1)" font-family='"Liberation Serif", "Times New Roman", serif' font-weight="normal" font-size="28.38" fill="#595959" >7wt.%PPG</text>
<text transform="translate(657.99,880.64) scale(1.0767,1)" font-family='"Liberation Serif", "Times New Roman", serif' font-weight="normal" font-size="28.78" fill="#595959" >7wt%PEG-PPG</text>
<text transform="translate(657.95,936.21) scale(1.1524,1)" font-family='"Liberation Serif", "Times New Roman", serif' font-weight="normal" font-size="26.92" fill="#595959" >Regular PEO</text>
<text transform="translate(299.05,1407.23) scale(1.0641,1)" font-family='"Liberation Sans", Arial, sans-serif' font-weight="bold" font-size="36.89" fill="#000" >1000·T</text>
<text transform="translate(423.50,1396.20) scale(0.8539,1)" font-family='"Liberation Sans", Arial, sans-serif' font-weight="bold" font-size="23.56" fill="#000" >-1</text>
<text transform="translate(447.99,1407.12) scale(1.0866,1)" font-family='"Liberation Sans", Arial, sans-serif' font-weight="bold" font-size="37.00" fill="#000" >(K</text>
<text transform="translate(491.39,1396.20) scale(0.9678,1)" font-family='"Liberation Sans", Arial, sans-serif' font-weight="bold" font-size="23.56" fill="#000" >-1</text>
<text transform="translate(515.41,1407.12) scale(1.0136,1)" font-family='"Liberation Sans", Arial, sans-serif' font-weight="bold" font-size="37.00" fill="#000" >)</text>
<clipPath id="cd"><rect x="1044.6" y="776.6" width="752.4000000000001" height="520.8000000000001"/></clipPath>
<g clip-path="url(#cd)">
<path d="M1044,1278.2C1049.17,1278.62 1063.58,1280.03 1075,1280.75C1086.42,1281.47 1100,1281.96 1112.5,1282.5C1125,1283.04 1139.58,1283.75 1150,1284C1160.42,1284.25 1166.67,1284.25 1175,1284C1183.33,1283.75 1191.67,1283.33 1200,1282.5C1208.33,1281.67 1217.92,1280.33 1225,1279C1232.08,1277.67 1236.25,1276.71 1242.5,1274.5C1248.75,1272.29 1255.83,1268.88 1262.5,1265.75C1269.17,1262.62 1276.25,1258.67 1282.5,1255.75C1288.75,1252.83 1295,1250.04 1300,1248.25C1305,1246.46 1307.92,1245.71 1312.5,1245C1317.08,1244.29 1322.5,1244 1327.5,1244C1332.5,1244 1336.25,1244.42 1342.5,1245C1348.75,1245.58 1357.08,1246.33 1365,1247.5C1372.92,1248.67 1381.67,1250.83 1390,1252C1398.33,1253.17 1406.67,1254.08 1415,1254.5C1423.33,1254.92 1431.67,1255 1440,1254.5C1448.33,1254 1456.67,1252.83 1465,1251.5C1473.33,1250.17 1481.67,1247.88 1490,1246.5C1498.33,1245.12 1506.67,1244.33 1515,1243.25C1523.33,1242.17 1531.67,1241.04 1540,1240C1548.33,1238.96 1556.67,1238 1565,1237C1573.33,1236 1584.17,1234.62 1590,1234C1595.83,1233.38 1595.4,1233.48 1600,1233.3C1604.6,1233.12 1611.73,1233.42 1617.6,1232.9C1623.47,1232.38 1630.07,1231.08 1635.2,1230.2C1640.33,1229.32 1644.3,1228.62 1648.4,1227.6C1652.5,1226.58 1656.73,1225.42 1659.8,1224.1C1662.87,1222.78 1664.9,1221.32 1666.8,1219.7C1668.7,1218.08 1670.22,1216.17 1671.2,1214.4C1672.18,1212.63 1672.27,1211.45 1672.7,1209.1C1673.13,1206.75 1673.38,1203.97 1673.8,1200.3C1674.22,1196.63 1674.83,1191.48 1675.2,1187.1C1675.57,1182.72 1675.63,1179.12 1676,1174C1676.37,1168.88 1677.03,1161.53 1677.4,1156.4C1677.77,1151.27 1677.92,1147.6 1678.2,1143.2C1678.48,1138.8 1678.62,1140.43 1679.1,1130C1679.58,1119.57 1680.3,1098.2 1681.1,1080.6C1681.9,1063 1683.08,1040.8 1683.9,1024.4C1684.72,1008 1685.18,996.27 1686,982.2C1686.82,968.13 1688.1,957.45 1688.8,940C1689.5,922.55 1689.58,897.17 1690.2,877.5C1690.82,857.83 1692,832.92 1692.5,822C1693,811.08 1692.78,815.17 1693.2,812C1693.62,808.83 1694.6,806 1695,803C1695.4,800 1695.13,797 1695.6,794C1696.07,791 1697.27,788 1697.8,785C1698.33,782 1698.59,777.5 1698.75,776" fill="none" stroke="#00ff3c" stroke-width="4.0" stroke-linejoin="round" stroke-linecap="round"/>
<path d="M1044,1294.5C1049.17,1293.92 1061.5,1292.04 1075,1291C1088.5,1289.96 1108.33,1288.79 1125,1288.25C1141.67,1287.71 1158.33,1287.62 1175,1287.75C1191.67,1287.88 1208.33,1288.58 1225,1289C1241.67,1289.42 1258.33,1290.08 1275,1290.25C1291.67,1290.42 1310,1290.33 1325,1290C1340,1289.67 1350,1288.96 1365,1288.25C1380,1287.54 1398.33,1286.79 1415,1285.75C1431.67,1284.71 1452.5,1283.12 1465,1282C1477.5,1280.88 1481.67,1280.25 1490,1279C1498.33,1277.75 1506.67,1276.5 1515,1274.5C1523.33,1272.5 1531.67,1270 1540,1267C1548.33,1264 1556.67,1260.33 1565,1256.5C1573.33,1252.67 1584.17,1246.92 1590,1244C1595.83,1241.08 1595.4,1241.58 1600,1239C1604.6,1236.42 1611.73,1232.17 1617.6,1228.5C1623.47,1224.83 1629.35,1220.97 1635.2,1217C1641.05,1213.03 1646.85,1208.95 1652.7,1204.7C1658.55,1200.45 1664.43,1196.33 1670.3,1191.5C1676.17,1186.67 1682.77,1180.38 1687.9,1175.7C1693.03,1171.02 1696.7,1168.23 1701.1,1163.4C1705.5,1158.57 1711.32,1150.6 1714.3,1146.7C1717.28,1142.8 1715.87,1145.17 1719,1140C1722.13,1134.83 1729.1,1123.73 1733.1,1115.7C1737.1,1107.67 1740.18,1100 1743,1091.8C1745.82,1083.6 1747.67,1075.4 1750,1066.5C1752.33,1057.6 1754.9,1047.77 1757,1038.4C1759.1,1029.03 1760.95,1019.67 1762.6,1010.3C1764.25,1000.93 1765.48,990.4 1766.9,982.2C1768.32,974 1769.82,968.13 1771.1,961.1C1772.38,954.07 1773.48,947.68 1774.6,940C1775.72,932.32 1776.07,931.67 1777.8,915C1779.53,898.33 1782.97,863.17 1785,840C1787.03,816.83 1789.17,786.67 1790,776" fill="none" stroke="#0a3cff" stroke-width="4.2" stroke-linejoin="round" stroke-linecap="round"/>
<path d="M1044,1292C1053.33,1291.5 1082.33,1289.62 1100,1289C1117.67,1288.38 1129.17,1288.25 1150,1288.25C1170.83,1288.25 1204.17,1288.92 1225,1289C1245.83,1289.08 1258.33,1289.08 1275,1288.75C1291.67,1288.42 1310,1287.71 1325,1287C1340,1286.29 1350,1285.67 1365,1284.5C1380,1283.33 1400.42,1281.46 1415,1280C1429.58,1278.54 1442.08,1277.42 1452.5,1275.75C1462.92,1274.08 1469.17,1272.71 1477.5,1270C1485.83,1267.29 1494.17,1263.12 1502.5,1259.5C1510.83,1255.88 1519.17,1251.79 1527.5,1248.25C1535.83,1244.71 1544.17,1241.46 1552.5,1238.25C1560.83,1235.04 1569.58,1232.09 1577.5,1229C1585.42,1225.91 1593.32,1222.72 1600,1219.7C1606.68,1216.68 1611.73,1214.13 1617.6,1210.9C1623.47,1207.67 1630.07,1203.82 1635.2,1200.3C1640.33,1196.78 1644.02,1193.75 1648.4,1189.8C1652.78,1185.85 1657.12,1181.15 1661.5,1176.6C1665.88,1172.05 1670.3,1167.63 1674.7,1162.5C1679.1,1157.37 1684.85,1149.55 1687.9,1145.8C1690.95,1142.05 1689.45,1144.53 1693,1140C1696.55,1135.47 1703.68,1126.15 1709.2,1118.6C1714.72,1111.05 1720.72,1102.43 1726.1,1094.7C1731.48,1086.97 1737.05,1078.53 1741.5,1072.2C1745.95,1065.87 1749.05,1062.8 1752.8,1056.7C1756.55,1050.6 1760.25,1042.87 1764,1035.6C1767.75,1028.33 1771.78,1020.6 1775.3,1013.1C1778.82,1005.6 1782.52,996.93 1785.1,990.6C1787.68,984.27 1789.15,980.03 1790.8,975.1C1792.45,970.17 1793.63,965.68 1795,961C1796.37,956.32 1798.33,949.33 1799,947" fill="none" stroke="#ff0a14" stroke-width="4.0" stroke-linejoin="round" stroke-linecap="round"/>
</g>
<rect x="1044.6" y="776.6" width="752.4000000000001" height="520.8000000000001" fill="none" stroke="#000" stroke-width="6.3"/>
<path d="M1032.5,1297.2H1044.6M1032.5,1167.05H1044.6M1032.5,1036.9H1044.6M1032.5,906.75H1044.6M1032.5,776.6H1044.6M1044,1297.4V1307M1151.55,1297.4V1307M1259.1,1297.4V1307M1366.65,1297.4V1307M1474.2,1297.4V1307M1581.75,1297.4V1307M1689.3,1297.4V1307M1796.85,1297.4V1307" stroke="#000" stroke-width="5" fill="none"/>
<path d="M1044.6,1232.12H1050.1M1044.6,1101.97H1050.1M1044.6,971.83H1050.1M1044.6,841.67H1050.1M1097.78,1297.4V1291.9M1205.33,1297.4V1291.9M1312.88,1297.4V1291.9M1420.42,1297.4V1291.9M1527.97,1297.4V1291.9M1635.53,1297.4V1291.9M1743.07,1297.4V1291.9" stroke="#000" stroke-width="4.5" fill="none"/>
<text transform="translate(963.26,1305.80) scale(1.2089,1)" font-family='"Liberation Sans", Arial, sans-serif' font-weight="bold" font-size="25.72" fill="#000" >0.00</text>
<text transform="translate(962.87,1175.65) scale(1.2089,1)" font-family='"Liberation Sans", Arial, sans-serif' font-weight="bold" font-size="25.72" fill="#000" >0.05</text>
<text transform="translate(963.26,1045.50) scale(1.2089,1)" font-family='"Liberation Sans", Arial, sans-serif' font-weight="bold" font-size="25.72" fill="#000" >0.10</text>
<text transform="translate(962.87,915.35) scale(1.2089,1)" font-family='"Liberation Sans", Arial, sans-serif' font-weight="bold" font-size="25.72" fill="#000" >0.15</text>
<text transform="translate(963.26,785.20) scale(1.2089,1)" font-family='"Liberation Sans", Arial, sans-serif' font-weight="bold" font-size="25.72" fill="#000" >0.20</text>
<text transform="translate(1021.89,1336.30) scale(1.1598,1)" font-family='"Liberation Sans", Arial, sans-serif' font-weight="bold" font-size="27.28" fill="#000" >2.5</text>
<text transform="translate(1129.84,1336.30) scale(1.1598,1)" font-family='"Liberation Sans", Arial, sans-serif' font-weight="bold" font-size="27.28" fill="#000" >3.0</text>
<text transform="translate(1237.19,1336.30) scale(1.1598,1)" font-family='"Liberation Sans", Arial, sans-serif' font-weight="bold" font-size="27.28" fill="#000" >3.5</text>
<text transform="translate(1345.06,1336.30) scale(1.1598,1)" font-family='"Liberation Sans", Arial, sans-serif' font-weight="bold" font-size="27.28" fill="#000" >4.0</text>
<text transform="translate(1452.41,1336.30) scale(1.1598,1)" font-family='"Liberation Sans", Arial, sans-serif' font-weight="bold" font-size="27.28" fill="#000" >4.5</text>
<text transform="translate(1559.92,1336.30) scale(1.1598,1)" font-family='"Liberation Sans", Arial, sans-serif' font-weight="bold" font-size="27.28" fill="#000" >5.0</text>
<text transform="translate(1667.27,1336.30) scale(1.1598,1)" font-family='"Liberation Sans", Arial, sans-serif' font-weight="bold" font-size="27.28" fill="#000" >5.5</text>
<text transform="translate(1776.90,1336.30) scale(1.1598,1)" font-family='"Liberation Sans", Arial, sans-serif' font-weight="bold" font-size="27.28" fill="#000" >6.0</text>
<text transform="translate(1322.71,1373.27) scale(1.2375,1)" font-family='"Liberation Sans", Arial, sans-serif' font-weight="bold" font-size="30.72" fill="#000" >Voltage (V)</text>
<text transform="translate(951.54,1206.58) rotate(-90) scale(0.8668,1)" font-family='"Liberation Sans", Arial, sans-serif' font-weight="bold" font-size="45.58" fill="#000" >Current (mA)</text>
<text transform="translate(902.61,796.55) scale(1.0179,1)" font-family='"Liberation Sans", Arial, sans-serif' font-weight="bold" font-size="46.97" fill="#000" >(d)</text>
<path d="M1101.3,806.25H1175" stroke="#00ff3c" stroke-width="3.6" stroke-linecap="round" fill="none"/>
<path d="M1101.3,844.25H1175" stroke="#0a3cff" stroke-width="3.6" stroke-linecap="round" fill="none"/>
<path d="M1101.3,880.0H1175" stroke="#ff0a14" stroke-width="3.6" stroke-linecap="round" fill="none"/>
<text transform="translate(1181.67,815.00) scale(1.2031,1)" font-family='"Liberation Sans", Arial, sans-serif' font-weight="bold" font-size="28.69" fill="#000" >Regular PEO</text>
<text transform="translate(1183.53,853.00) scale(1.2031,1)" font-family='"Liberation Sans", Arial, sans-serif' font-weight="bold" font-size="28.69" fill="#000" >7wt%PPG</text>
<text transform="translate(1183.53,889.50) scale(1.2031,1)" font-family='"Liberation Sans", Arial, sans-serif' font-weight="bold" font-size="28.69" fill="#000" >7wt%PEG-PPG</text>
</svg></body></html>
